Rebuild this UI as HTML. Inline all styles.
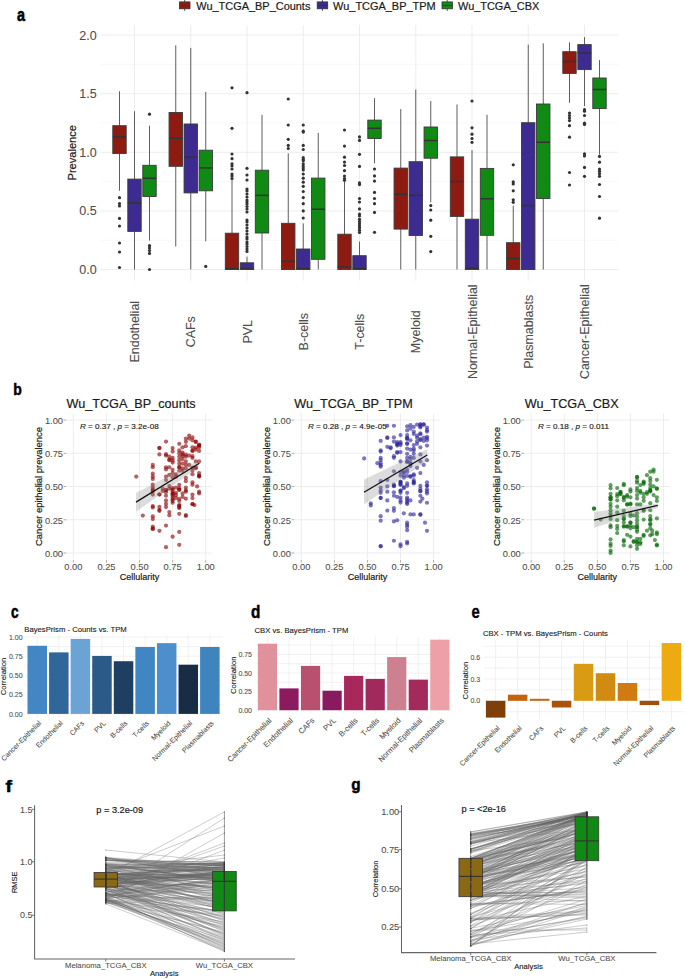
<!DOCTYPE html>
<html><head><meta charset="utf-8"><style>
html,body{margin:0;padding:0;background:#fff;width:685px;height:979px;overflow:hidden}
svg{display:block;font-family:"Liberation Sans",sans-serif}
</style></head><body>
<svg width="685" height="979" viewBox="0 0 685 979">
<rect width="685" height="979" fill="#fff"/>
<line x1="100.30" y1="269.50" x2="618.40" y2="269.50" stroke="#ebebeb" stroke-width="0.9"/>
<line x1="100.30" y1="240.20" x2="618.40" y2="240.20" stroke="#f3f3f3" stroke-width="0.6"/>
<line x1="100.30" y1="210.90" x2="618.40" y2="210.90" stroke="#ebebeb" stroke-width="0.9"/>
<line x1="100.30" y1="181.60" x2="618.40" y2="181.60" stroke="#f3f3f3" stroke-width="0.6"/>
<line x1="100.30" y1="152.30" x2="618.40" y2="152.30" stroke="#ebebeb" stroke-width="0.9"/>
<line x1="100.30" y1="123.00" x2="618.40" y2="123.00" stroke="#f3f3f3" stroke-width="0.6"/>
<line x1="100.30" y1="93.70" x2="618.40" y2="93.70" stroke="#ebebeb" stroke-width="0.9"/>
<line x1="100.30" y1="64.40" x2="618.40" y2="64.40" stroke="#f3f3f3" stroke-width="0.6"/>
<line x1="100.30" y1="35.10" x2="618.40" y2="35.10" stroke="#ebebeb" stroke-width="0.9"/>
<line x1="134.50" y1="25.00" x2="134.50" y2="280.60" stroke="#ebebeb" stroke-width="0.9"/>
<line x1="190.75" y1="25.00" x2="190.75" y2="280.60" stroke="#ebebeb" stroke-width="0.9"/>
<line x1="247.00" y1="25.00" x2="247.00" y2="280.60" stroke="#ebebeb" stroke-width="0.9"/>
<line x1="303.25" y1="25.00" x2="303.25" y2="280.60" stroke="#ebebeb" stroke-width="0.9"/>
<line x1="359.50" y1="25.00" x2="359.50" y2="280.60" stroke="#ebebeb" stroke-width="0.9"/>
<line x1="415.75" y1="25.00" x2="415.75" y2="280.60" stroke="#ebebeb" stroke-width="0.9"/>
<line x1="472.00" y1="25.00" x2="472.00" y2="280.60" stroke="#ebebeb" stroke-width="0.9"/>
<line x1="528.25" y1="25.00" x2="528.25" y2="280.60" stroke="#ebebeb" stroke-width="0.9"/>
<line x1="584.50" y1="25.00" x2="584.50" y2="280.60" stroke="#ebebeb" stroke-width="0.9"/>
<text x="96.60" y="274.00" font-size="12.5" fill="#4d4d4d" stroke="#4d4d4d" stroke-width="0.08" text-anchor="end">0.0</text>
<text x="96.60" y="215.40" font-size="12.5" fill="#4d4d4d" stroke="#4d4d4d" stroke-width="0.08" text-anchor="end">0.5</text>
<text x="96.60" y="156.80" font-size="12.5" fill="#4d4d4d" stroke="#4d4d4d" stroke-width="0.08" text-anchor="end">1.0</text>
<text x="96.60" y="98.20" font-size="12.5" fill="#4d4d4d" stroke="#4d4d4d" stroke-width="0.08" text-anchor="end">1.5</text>
<text x="96.60" y="39.60" font-size="12.5" fill="#4d4d4d" stroke="#4d4d4d" stroke-width="0.08" text-anchor="end">2.0</text>
<text x="75.60" y="152.75" font-size="11.1" fill="#1a1a1a" stroke="#1a1a1a" stroke-width="0.2" text-anchor="middle" transform="rotate(-90 75.6 152.75)">Prevalence</text>
<text x="139.10" y="331.70" font-size="12.45" fill="#4d4d4d" stroke="#4d4d4d" stroke-width="0.08" text-anchor="middle" transform="rotate(-90 139.1 331.7)">Endothelial</text>
<text x="195.35" y="331.70" font-size="12.45" fill="#4d4d4d" stroke="#4d4d4d" stroke-width="0.08" text-anchor="middle" transform="rotate(-90 195.35 331.7)">CAFs</text>
<text x="251.60" y="331.70" font-size="12.45" fill="#4d4d4d" stroke="#4d4d4d" stroke-width="0.08" text-anchor="middle" transform="rotate(-90 251.6 331.7)">PVL</text>
<text x="307.85" y="331.70" font-size="12.45" fill="#4d4d4d" stroke="#4d4d4d" stroke-width="0.08" text-anchor="middle" transform="rotate(-90 307.85 331.7)">B-cells</text>
<text x="364.10" y="331.70" font-size="12.45" fill="#4d4d4d" stroke="#4d4d4d" stroke-width="0.08" text-anchor="middle" transform="rotate(-90 364.1 331.7)">T-cells</text>
<text x="420.35" y="331.70" font-size="12.45" fill="#4d4d4d" stroke="#4d4d4d" stroke-width="0.08" text-anchor="middle" transform="rotate(-90 420.35 331.7)">Myeloid</text>
<text x="476.60" y="331.70" font-size="12.45" fill="#4d4d4d" stroke="#4d4d4d" stroke-width="0.08" text-anchor="middle" transform="rotate(-90 476.6 331.7)">Normal-Epithelial</text>
<text x="532.85" y="331.70" font-size="12.45" fill="#4d4d4d" stroke="#4d4d4d" stroke-width="0.08" text-anchor="middle" transform="rotate(-90 532.85 331.7)">Plasmablasts</text>
<text x="589.10" y="331.70" font-size="12.45" fill="#4d4d4d" stroke="#4d4d4d" stroke-width="0.08" text-anchor="middle" transform="rotate(-90 589.1 331.7)">Cancer-Epithelial</text>
<line x1="184.70" y1="0.00" x2="184.70" y2="10.90" stroke="#555" stroke-width="1"/>
<rect x="179.50" y="1.90" width="10.50" height="6.90" fill="#8e1b12" stroke="#333" stroke-width="0.8"/>
<line x1="179.50" y1="5.40" x2="190.00" y2="5.40" stroke="#333" stroke-width="0.9"/>
<text x="196.30" y="9.60" font-size="10.95" fill="#1a1a1a" stroke="#1a1a1a" stroke-width="0.2" text-anchor="start">Wu_TCGA_BP_Counts</text>
<line x1="322.40" y1="0.00" x2="322.40" y2="10.90" stroke="#555" stroke-width="1"/>
<rect x="317.20" y="1.90" width="10.50" height="6.90" fill="#3d2b92" stroke="#333" stroke-width="0.8"/>
<line x1="317.20" y1="5.40" x2="327.70" y2="5.40" stroke="#333" stroke-width="0.9"/>
<text x="333.10" y="9.60" font-size="10.95" fill="#1a1a1a" stroke="#1a1a1a" stroke-width="0.2" text-anchor="start">Wu_TCGA_BP_TPM</text>
<line x1="447.20" y1="0.00" x2="447.20" y2="10.90" stroke="#555" stroke-width="1"/>
<rect x="442.00" y="1.90" width="10.50" height="6.90" fill="#108a14" stroke="#333" stroke-width="0.8"/>
<line x1="442.00" y1="5.40" x2="452.50" y2="5.40" stroke="#333" stroke-width="0.9"/>
<text x="458.00" y="9.60" font-size="10.95" fill="#1a1a1a" stroke="#1a1a1a" stroke-width="0.2" text-anchor="start">Wu_TCGA_CBX</text>
<text x="0" y="0" font-size="18" font-weight="bold" fill="#000" stroke="#000" stroke-width="0.6" transform="translate(17.0 21.0) scale(0.8 0.97)">a</text>
<line x1="119.50" y1="91.30" x2="119.50" y2="125.70" stroke="#5e5e5e" stroke-width="1.0"/>
<line x1="119.50" y1="153.60" x2="119.50" y2="190.80" stroke="#5e5e5e" stroke-width="1.0"/>
<rect x="112.80" y="125.70" width="13.40" height="27.90" fill="#8e1b12" stroke="#3a3a3a" stroke-width="0.9"/>
<line x1="112.80" y1="136.70" x2="126.20" y2="136.70" stroke="#333" stroke-width="1.5"/>
<circle cx="119.50" cy="197.70" r="1.6" fill="#333"/>
<circle cx="119.50" cy="203.60" r="1.6" fill="#333"/>
<circle cx="119.50" cy="206.00" r="1.6" fill="#333"/>
<circle cx="119.50" cy="218.40" r="1.6" fill="#333"/>
<circle cx="119.50" cy="226.00" r="1.6" fill="#333"/>
<circle cx="119.50" cy="243.00" r="1.6" fill="#333"/>
<circle cx="119.50" cy="252.00" r="1.6" fill="#333"/>
<circle cx="119.50" cy="267.50" r="1.6" fill="#333"/>
<line x1="134.50" y1="111.20" x2="134.50" y2="179.10" stroke="#5e5e5e" stroke-width="1.0"/>
<line x1="134.50" y1="231.40" x2="134.50" y2="269.50" stroke="#5e5e5e" stroke-width="1.0"/>
<rect x="127.80" y="179.10" width="13.40" height="52.30" fill="#3d2b92" stroke="#3a3a3a" stroke-width="0.9"/>
<line x1="127.80" y1="202.80" x2="141.20" y2="202.80" stroke="#333" stroke-width="1.5"/>
<line x1="149.50" y1="125.70" x2="149.50" y2="165.30" stroke="#5e5e5e" stroke-width="1.0"/>
<line x1="149.50" y1="196.50" x2="149.50" y2="240.60" stroke="#5e5e5e" stroke-width="1.0"/>
<rect x="142.80" y="165.30" width="13.40" height="31.20" fill="#108a14" stroke="#3a3a3a" stroke-width="0.9"/>
<line x1="142.80" y1="178.30" x2="156.20" y2="178.30" stroke="#333" stroke-width="1.5"/>
<circle cx="149.50" cy="114.20" r="1.6" fill="#333"/>
<circle cx="149.50" cy="245.70" r="1.6" fill="#333"/>
<circle cx="149.50" cy="248.00" r="1.6" fill="#333"/>
<circle cx="149.50" cy="250.50" r="1.6" fill="#333"/>
<circle cx="149.50" cy="253.40" r="1.6" fill="#333"/>
<circle cx="149.50" cy="269.50" r="1.6" fill="#333"/>
<line x1="175.75" y1="45.30" x2="175.75" y2="112.50" stroke="#5e5e5e" stroke-width="1.0"/>
<line x1="175.75" y1="166.30" x2="175.75" y2="246.50" stroke="#5e5e5e" stroke-width="1.0"/>
<rect x="169.05" y="112.50" width="13.40" height="53.80" fill="#8e1b12" stroke="#3a3a3a" stroke-width="0.9"/>
<line x1="169.05" y1="138.20" x2="182.45" y2="138.20" stroke="#333" stroke-width="1.5"/>
<line x1="190.75" y1="47.90" x2="190.75" y2="124.00" stroke="#5e5e5e" stroke-width="1.0"/>
<line x1="190.75" y1="192.90" x2="190.75" y2="269.50" stroke="#5e5e5e" stroke-width="1.0"/>
<rect x="184.05" y="124.00" width="13.40" height="68.90" fill="#3d2b92" stroke="#3a3a3a" stroke-width="0.9"/>
<line x1="184.05" y1="157.10" x2="197.45" y2="157.10" stroke="#333" stroke-width="1.5"/>
<line x1="205.75" y1="91.80" x2="205.75" y2="150.20" stroke="#5e5e5e" stroke-width="1.0"/>
<line x1="205.75" y1="190.80" x2="205.75" y2="241.40" stroke="#5e5e5e" stroke-width="1.0"/>
<rect x="199.05" y="150.20" width="13.40" height="40.60" fill="#108a14" stroke="#3a3a3a" stroke-width="0.9"/>
<line x1="199.05" y1="167.90" x2="212.45" y2="167.90" stroke="#333" stroke-width="1.5"/>
<circle cx="205.75" cy="266.40" r="1.6" fill="#333"/>
<line x1="232.00" y1="179.30" x2="232.00" y2="233.20" stroke="#5e5e5e" stroke-width="1.0"/>
<line x1="232.00" y1="269.50" x2="232.00" y2="269.50" stroke="#5e5e5e" stroke-width="1.0"/>
<rect x="225.30" y="233.20" width="13.40" height="36.30" fill="#8e1b12" stroke="#3a3a3a" stroke-width="0.9"/>
<line x1="225.30" y1="268.70" x2="238.70" y2="268.70" stroke="#333" stroke-width="1.5"/>
<circle cx="232.00" cy="87.80" r="1.6" fill="#333"/>
<circle cx="232.00" cy="128.30" r="1.6" fill="#333"/>
<circle cx="232.00" cy="154.00" r="1.6" fill="#333"/>
<circle cx="232.00" cy="158.70" r="1.6" fill="#333"/>
<circle cx="232.00" cy="163.80" r="1.6" fill="#333"/>
<circle cx="232.00" cy="165.90" r="1.6" fill="#333"/>
<circle cx="232.00" cy="169.00" r="1.6" fill="#333"/>
<circle cx="232.00" cy="174.00" r="1.6" fill="#333"/>
<circle cx="232.00" cy="176.00" r="1.6" fill="#333"/>
<circle cx="232.00" cy="178.50" r="1.6" fill="#333"/>
<line x1="247.00" y1="256.70" x2="247.00" y2="262.80" stroke="#5e5e5e" stroke-width="1.0"/>
<line x1="247.00" y1="269.50" x2="247.00" y2="269.50" stroke="#5e5e5e" stroke-width="1.0"/>
<rect x="240.30" y="262.80" width="13.40" height="6.70" fill="#3d2b92" stroke="#3a3a3a" stroke-width="0.9"/>
<line x1="240.30" y1="268.60" x2="253.70" y2="268.60" stroke="#333" stroke-width="1.5"/>
<circle cx="247.00" cy="92.70" r="1.6" fill="#333"/>
<circle cx="247.00" cy="168.30" r="1.6" fill="#333"/>
<circle cx="247.00" cy="175.00" r="1.6" fill="#333"/>
<circle cx="247.00" cy="180.00" r="1.6" fill="#333"/>
<circle cx="247.00" cy="189.00" r="1.6" fill="#333"/>
<circle cx="247.00" cy="191.00" r="1.6" fill="#333"/>
<circle cx="247.00" cy="194.00" r="1.6" fill="#333"/>
<circle cx="247.00" cy="197.00" r="1.6" fill="#333"/>
<circle cx="247.00" cy="200.00" r="1.6" fill="#333"/>
<circle cx="247.00" cy="202.00" r="1.6" fill="#333"/>
<circle cx="247.00" cy="204.00" r="1.6" fill="#333"/>
<circle cx="247.00" cy="206.50" r="1.6" fill="#333"/>
<circle cx="247.00" cy="209.00" r="1.6" fill="#333"/>
<circle cx="247.00" cy="212.00" r="1.6" fill="#333"/>
<circle cx="247.00" cy="220.00" r="1.6" fill="#333"/>
<circle cx="247.00" cy="222.00" r="1.6" fill="#333"/>
<circle cx="247.00" cy="225.00" r="1.6" fill="#333"/>
<circle cx="247.00" cy="228.00" r="1.6" fill="#333"/>
<circle cx="247.00" cy="231.00" r="1.6" fill="#333"/>
<circle cx="247.00" cy="234.00" r="1.6" fill="#333"/>
<circle cx="247.00" cy="237.00" r="1.6" fill="#333"/>
<circle cx="247.00" cy="239.00" r="1.6" fill="#333"/>
<circle cx="247.00" cy="242.00" r="1.6" fill="#333"/>
<circle cx="247.00" cy="244.00" r="1.6" fill="#333"/>
<circle cx="247.00" cy="246.50" r="1.6" fill="#333"/>
<circle cx="247.00" cy="249.00" r="1.6" fill="#333"/>
<circle cx="247.00" cy="251.40" r="1.6" fill="#333"/>
<line x1="262.00" y1="114.80" x2="262.00" y2="170.20" stroke="#5e5e5e" stroke-width="1.0"/>
<line x1="262.00" y1="233.00" x2="262.00" y2="269.50" stroke="#5e5e5e" stroke-width="1.0"/>
<rect x="255.30" y="170.20" width="13.40" height="62.80" fill="#108a14" stroke="#3a3a3a" stroke-width="0.9"/>
<line x1="255.30" y1="195.40" x2="268.70" y2="195.40" stroke="#333" stroke-width="1.5"/>
<line x1="288.25" y1="153.30" x2="288.25" y2="223.30" stroke="#5e5e5e" stroke-width="1.0"/>
<line x1="288.25" y1="269.50" x2="288.25" y2="269.50" stroke="#5e5e5e" stroke-width="1.0"/>
<rect x="281.55" y="223.30" width="13.40" height="46.20" fill="#8e1b12" stroke="#3a3a3a" stroke-width="0.9"/>
<line x1="281.55" y1="261.30" x2="294.95" y2="261.30" stroke="#333" stroke-width="1.5"/>
<circle cx="288.25" cy="99.00" r="1.6" fill="#333"/>
<circle cx="288.25" cy="125.00" r="1.6" fill="#333"/>
<circle cx="288.25" cy="139.30" r="1.6" fill="#333"/>
<circle cx="288.25" cy="145.40" r="1.6" fill="#333"/>
<circle cx="288.25" cy="148.50" r="1.6" fill="#333"/>
<line x1="303.25" y1="223.50" x2="303.25" y2="249.00" stroke="#5e5e5e" stroke-width="1.0"/>
<line x1="303.25" y1="269.50" x2="303.25" y2="269.50" stroke="#5e5e5e" stroke-width="1.0"/>
<rect x="296.55" y="249.00" width="13.40" height="20.50" fill="#3d2b92" stroke="#3a3a3a" stroke-width="0.9"/>
<line x1="296.55" y1="268.60" x2="309.95" y2="268.60" stroke="#333" stroke-width="1.5"/>
<circle cx="303.25" cy="125.00" r="1.6" fill="#333"/>
<circle cx="303.25" cy="131.10" r="1.6" fill="#333"/>
<circle cx="303.25" cy="132.10" r="1.6" fill="#333"/>
<circle cx="303.25" cy="145.40" r="1.6" fill="#333"/>
<circle cx="303.25" cy="149.50" r="1.6" fill="#333"/>
<circle cx="303.25" cy="157.70" r="1.6" fill="#333"/>
<circle cx="303.25" cy="159.50" r="1.6" fill="#333"/>
<circle cx="303.25" cy="160.80" r="1.6" fill="#333"/>
<circle cx="303.25" cy="163.80" r="1.6" fill="#333"/>
<circle cx="303.25" cy="166.00" r="1.6" fill="#333"/>
<circle cx="303.25" cy="168.00" r="1.6" fill="#333"/>
<circle cx="303.25" cy="170.00" r="1.6" fill="#333"/>
<circle cx="303.25" cy="174.00" r="1.6" fill="#333"/>
<circle cx="303.25" cy="178.20" r="1.6" fill="#333"/>
<circle cx="303.25" cy="182.20" r="1.6" fill="#333"/>
<circle cx="303.25" cy="186.30" r="1.6" fill="#333"/>
<circle cx="303.25" cy="191.50" r="1.6" fill="#333"/>
<circle cx="303.25" cy="197.60" r="1.6" fill="#333"/>
<circle cx="303.25" cy="203.70" r="1.6" fill="#333"/>
<circle cx="303.25" cy="210.90" r="1.6" fill="#333"/>
<circle cx="303.25" cy="218.00" r="1.6" fill="#333"/>
<line x1="318.25" y1="132.90" x2="318.25" y2="178.10" stroke="#5e5e5e" stroke-width="1.0"/>
<line x1="318.25" y1="259.30" x2="318.25" y2="269.50" stroke="#5e5e5e" stroke-width="1.0"/>
<rect x="311.55" y="178.10" width="13.40" height="81.20" fill="#108a14" stroke="#3a3a3a" stroke-width="0.9"/>
<line x1="311.55" y1="209.20" x2="324.95" y2="209.20" stroke="#333" stroke-width="1.5"/>
<line x1="344.50" y1="181.90" x2="344.50" y2="234.20" stroke="#5e5e5e" stroke-width="1.0"/>
<line x1="344.50" y1="269.50" x2="344.50" y2="269.50" stroke="#5e5e5e" stroke-width="1.0"/>
<rect x="337.80" y="234.20" width="13.40" height="35.30" fill="#8e1b12" stroke="#3a3a3a" stroke-width="0.9"/>
<line x1="337.80" y1="266.90" x2="351.20" y2="266.90" stroke="#333" stroke-width="1.5"/>
<circle cx="344.50" cy="130.00" r="1.6" fill="#333"/>
<circle cx="344.50" cy="146.10" r="1.6" fill="#333"/>
<circle cx="344.50" cy="157.20" r="1.6" fill="#333"/>
<circle cx="344.50" cy="162.10" r="1.6" fill="#333"/>
<circle cx="344.50" cy="165.50" r="1.6" fill="#333"/>
<circle cx="344.50" cy="170.70" r="1.6" fill="#333"/>
<circle cx="344.50" cy="176.00" r="1.6" fill="#333"/>
<circle cx="344.50" cy="178.50" r="1.6" fill="#333"/>
<circle cx="344.50" cy="180.30" r="1.6" fill="#333"/>
<line x1="359.50" y1="241.60" x2="359.50" y2="255.70" stroke="#5e5e5e" stroke-width="1.0"/>
<line x1="359.50" y1="269.50" x2="359.50" y2="269.50" stroke="#5e5e5e" stroke-width="1.0"/>
<rect x="352.80" y="255.70" width="13.40" height="13.80" fill="#3d2b92" stroke="#3a3a3a" stroke-width="0.9"/>
<line x1="352.80" y1="268.60" x2="366.20" y2="268.60" stroke="#333" stroke-width="1.5"/>
<circle cx="359.50" cy="136.90" r="1.6" fill="#333"/>
<circle cx="359.50" cy="140.40" r="1.6" fill="#333"/>
<circle cx="359.50" cy="154.30" r="1.6" fill="#333"/>
<circle cx="359.50" cy="166.40" r="1.6" fill="#333"/>
<circle cx="359.50" cy="182.90" r="1.6" fill="#333"/>
<circle cx="359.50" cy="184.60" r="1.6" fill="#333"/>
<circle cx="359.50" cy="198.50" r="1.6" fill="#333"/>
<circle cx="359.50" cy="202.00" r="1.6" fill="#333"/>
<circle cx="359.50" cy="208.90" r="1.6" fill="#333"/>
<circle cx="359.50" cy="214.10" r="1.6" fill="#333"/>
<circle cx="359.50" cy="215.90" r="1.6" fill="#333"/>
<circle cx="359.50" cy="219.30" r="1.6" fill="#333"/>
<circle cx="359.50" cy="221.50" r="1.6" fill="#333"/>
<circle cx="359.50" cy="223.70" r="1.6" fill="#333"/>
<circle cx="359.50" cy="225.90" r="1.6" fill="#333"/>
<circle cx="359.50" cy="228.10" r="1.6" fill="#333"/>
<circle cx="359.50" cy="230.30" r="1.6" fill="#333"/>
<circle cx="359.50" cy="232.50" r="1.6" fill="#333"/>
<line x1="374.50" y1="98.20" x2="374.50" y2="120.10" stroke="#5e5e5e" stroke-width="1.0"/>
<line x1="374.50" y1="138.50" x2="374.50" y2="163.30" stroke="#5e5e5e" stroke-width="1.0"/>
<rect x="367.80" y="120.10" width="13.40" height="18.40" fill="#108a14" stroke="#3a3a3a" stroke-width="0.9"/>
<line x1="367.80" y1="128.30" x2="381.20" y2="128.30" stroke="#333" stroke-width="1.5"/>
<circle cx="374.50" cy="169.00" r="1.6" fill="#333"/>
<circle cx="374.50" cy="175.90" r="1.6" fill="#333"/>
<circle cx="374.50" cy="181.10" r="1.6" fill="#333"/>
<circle cx="374.50" cy="192.40" r="1.6" fill="#333"/>
<circle cx="374.50" cy="198.50" r="1.6" fill="#333"/>
<circle cx="374.50" cy="203.70" r="1.6" fill="#333"/>
<circle cx="374.50" cy="212.40" r="1.6" fill="#333"/>
<circle cx="374.50" cy="232.30" r="1.6" fill="#333"/>
<line x1="400.75" y1="109.10" x2="400.75" y2="168.10" stroke="#5e5e5e" stroke-width="1.0"/>
<line x1="400.75" y1="229.10" x2="400.75" y2="269.50" stroke="#5e5e5e" stroke-width="1.0"/>
<rect x="394.05" y="168.10" width="13.40" height="61.00" fill="#8e1b12" stroke="#3a3a3a" stroke-width="0.9"/>
<line x1="394.05" y1="194.20" x2="407.45" y2="194.20" stroke="#333" stroke-width="1.5"/>
<line x1="415.75" y1="89.50" x2="415.75" y2="161.70" stroke="#5e5e5e" stroke-width="1.0"/>
<line x1="415.75" y1="235.50" x2="415.75" y2="269.50" stroke="#5e5e5e" stroke-width="1.0"/>
<rect x="409.05" y="161.70" width="13.40" height="73.80" fill="#3d2b92" stroke="#3a3a3a" stroke-width="0.9"/>
<line x1="409.05" y1="195.40" x2="422.45" y2="195.40" stroke="#333" stroke-width="1.5"/>
<line x1="430.75" y1="101.00" x2="430.75" y2="127.00" stroke="#5e5e5e" stroke-width="1.0"/>
<line x1="430.75" y1="158.20" x2="430.75" y2="202.30" stroke="#5e5e5e" stroke-width="1.0"/>
<rect x="424.05" y="127.00" width="13.40" height="31.20" fill="#108a14" stroke="#3a3a3a" stroke-width="0.9"/>
<line x1="424.05" y1="140.50" x2="437.45" y2="140.50" stroke="#333" stroke-width="1.5"/>
<circle cx="430.75" cy="205.60" r="1.6" fill="#333"/>
<circle cx="430.75" cy="210.00" r="1.6" fill="#333"/>
<circle cx="430.75" cy="220.20" r="1.6" fill="#333"/>
<circle cx="430.75" cy="236.30" r="1.6" fill="#333"/>
<circle cx="430.75" cy="251.60" r="1.6" fill="#333"/>
<line x1="457.00" y1="104.50" x2="457.00" y2="156.90" stroke="#5e5e5e" stroke-width="1.0"/>
<line x1="457.00" y1="216.40" x2="457.00" y2="269.50" stroke="#5e5e5e" stroke-width="1.0"/>
<rect x="450.30" y="156.90" width="13.40" height="59.50" fill="#8e1b12" stroke="#3a3a3a" stroke-width="0.9"/>
<line x1="450.30" y1="181.40" x2="463.70" y2="181.40" stroke="#333" stroke-width="1.5"/>
<line x1="472.00" y1="150.00" x2="472.00" y2="219.20" stroke="#5e5e5e" stroke-width="1.0"/>
<line x1="472.00" y1="269.50" x2="472.00" y2="269.50" stroke="#5e5e5e" stroke-width="1.0"/>
<rect x="465.30" y="219.20" width="13.40" height="50.30" fill="#3d2b92" stroke="#3a3a3a" stroke-width="0.9"/>
<line x1="465.30" y1="268.20" x2="478.70" y2="268.20" stroke="#333" stroke-width="1.5"/>
<circle cx="472.00" cy="101.00" r="1.6" fill="#333"/>
<circle cx="472.00" cy="127.80" r="1.6" fill="#333"/>
<circle cx="472.00" cy="134.20" r="1.6" fill="#333"/>
<circle cx="472.00" cy="138.50" r="1.6" fill="#333"/>
<circle cx="472.00" cy="142.30" r="1.6" fill="#333"/>
<line x1="487.00" y1="114.80" x2="487.00" y2="168.40" stroke="#5e5e5e" stroke-width="1.0"/>
<line x1="487.00" y1="235.30" x2="487.00" y2="269.50" stroke="#5e5e5e" stroke-width="1.0"/>
<rect x="480.30" y="168.40" width="13.40" height="66.90" fill="#108a14" stroke="#3a3a3a" stroke-width="0.9"/>
<line x1="480.30" y1="198.80" x2="493.70" y2="198.80" stroke="#333" stroke-width="1.5"/>
<line x1="513.25" y1="205.60" x2="513.25" y2="242.70" stroke="#5e5e5e" stroke-width="1.0"/>
<line x1="513.25" y1="269.50" x2="513.25" y2="269.50" stroke="#5e5e5e" stroke-width="1.0"/>
<rect x="506.55" y="242.70" width="13.40" height="26.80" fill="#8e1b12" stroke="#3a3a3a" stroke-width="0.9"/>
<line x1="506.55" y1="258.50" x2="519.95" y2="258.50" stroke="#333" stroke-width="1.5"/>
<circle cx="513.25" cy="164.80" r="1.6" fill="#333"/>
<circle cx="513.25" cy="181.90" r="1.6" fill="#333"/>
<circle cx="513.25" cy="184.00" r="1.6" fill="#333"/>
<circle cx="513.25" cy="190.80" r="1.6" fill="#333"/>
<circle cx="513.25" cy="199.80" r="1.6" fill="#333"/>
<circle cx="513.25" cy="202.30" r="1.6" fill="#333"/>
<line x1="528.25" y1="44.60" x2="528.25" y2="122.70" stroke="#5e5e5e" stroke-width="1.0"/>
<line x1="528.25" y1="269.50" x2="528.25" y2="269.50" stroke="#5e5e5e" stroke-width="1.0"/>
<rect x="521.55" y="122.70" width="13.40" height="146.80" fill="#3d2b92" stroke="#3a3a3a" stroke-width="0.9"/>
<line x1="521.55" y1="205.60" x2="534.95" y2="205.60" stroke="#333" stroke-width="1.5"/>
<line x1="543.25" y1="43.30" x2="543.25" y2="104.00" stroke="#5e5e5e" stroke-width="1.0"/>
<line x1="543.25" y1="198.50" x2="543.25" y2="269.50" stroke="#5e5e5e" stroke-width="1.0"/>
<rect x="536.55" y="104.00" width="13.40" height="94.50" fill="#108a14" stroke="#3a3a3a" stroke-width="0.9"/>
<line x1="536.55" y1="142.30" x2="549.95" y2="142.30" stroke="#333" stroke-width="1.5"/>
<line x1="569.50" y1="42.30" x2="569.50" y2="51.70" stroke="#5e5e5e" stroke-width="1.0"/>
<line x1="569.50" y1="73.40" x2="569.50" y2="102.80" stroke="#5e5e5e" stroke-width="1.0"/>
<rect x="562.80" y="51.70" width="13.40" height="21.70" fill="#8e1b12" stroke="#3a3a3a" stroke-width="0.9"/>
<line x1="562.80" y1="61.40" x2="576.20" y2="61.40" stroke="#333" stroke-width="1.5"/>
<circle cx="569.50" cy="113.00" r="1.6" fill="#333"/>
<circle cx="569.50" cy="115.50" r="1.6" fill="#333"/>
<circle cx="569.50" cy="118.00" r="1.6" fill="#333"/>
<circle cx="569.50" cy="120.60" r="1.6" fill="#333"/>
<circle cx="569.50" cy="125.70" r="1.6" fill="#333"/>
<circle cx="569.50" cy="137.20" r="1.6" fill="#333"/>
<circle cx="569.50" cy="172.50" r="1.6" fill="#333"/>
<circle cx="569.50" cy="185.00" r="1.6" fill="#333"/>
<line x1="584.50" y1="37.10" x2="584.50" y2="44.60" stroke="#5e5e5e" stroke-width="1.0"/>
<line x1="584.50" y1="69.60" x2="584.50" y2="106.00" stroke="#5e5e5e" stroke-width="1.0"/>
<rect x="577.80" y="44.60" width="13.40" height="25.00" fill="#3d2b92" stroke="#3a3a3a" stroke-width="0.9"/>
<line x1="577.80" y1="53.00" x2="591.20" y2="53.00" stroke="#333" stroke-width="1.5"/>
<circle cx="584.50" cy="109.70" r="1.6" fill="#333"/>
<circle cx="584.50" cy="111.20" r="1.6" fill="#333"/>
<circle cx="584.50" cy="115.50" r="1.6" fill="#333"/>
<circle cx="584.50" cy="123.20" r="1.6" fill="#333"/>
<circle cx="584.50" cy="124.50" r="1.6" fill="#333"/>
<circle cx="584.50" cy="153.80" r="1.6" fill="#333"/>
<circle cx="584.50" cy="155.90" r="1.6" fill="#333"/>
<circle cx="584.50" cy="167.40" r="1.6" fill="#333"/>
<circle cx="584.50" cy="176.30" r="1.6" fill="#333"/>
<line x1="599.50" y1="60.10" x2="599.50" y2="78.00" stroke="#5e5e5e" stroke-width="1.0"/>
<line x1="599.50" y1="108.60" x2="599.50" y2="154.60" stroke="#5e5e5e" stroke-width="1.0"/>
<rect x="592.80" y="78.00" width="13.40" height="30.60" fill="#108a14" stroke="#3a3a3a" stroke-width="0.9"/>
<line x1="592.80" y1="89.50" x2="606.20" y2="89.50" stroke="#333" stroke-width="1.5"/>
<circle cx="599.50" cy="156.40" r="1.6" fill="#333"/>
<circle cx="599.50" cy="162.20" r="1.6" fill="#333"/>
<circle cx="599.50" cy="169.10" r="1.6" fill="#333"/>
<circle cx="599.50" cy="171.20" r="1.6" fill="#333"/>
<circle cx="599.50" cy="173.70" r="1.6" fill="#333"/>
<circle cx="599.50" cy="176.30" r="1.6" fill="#333"/>
<circle cx="599.50" cy="184.50" r="1.6" fill="#333"/>
<circle cx="599.50" cy="196.50" r="1.6" fill="#333"/>
<circle cx="599.50" cy="218.20" r="1.6" fill="#333"/>
<text x="0" y="0" font-size="16.5" font-weight="bold" fill="#000" stroke="#000" stroke-width="0.5" transform="translate(13.3 394.6) scale(0.85 0.98)">b</text>
<line x1="66.79" y1="553.00" x2="212.32" y2="553.00" stroke="#ebebeb" stroke-width="0.9"/>
<line x1="73.40" y1="413.45" x2="73.40" y2="559.64" stroke="#ebebeb" stroke-width="0.9"/>
<line x1="66.79" y1="519.77" x2="212.32" y2="519.77" stroke="#ebebeb" stroke-width="0.9"/>
<line x1="106.48" y1="413.45" x2="106.48" y2="559.64" stroke="#ebebeb" stroke-width="0.9"/>
<line x1="66.79" y1="486.55" x2="212.32" y2="486.55" stroke="#ebebeb" stroke-width="0.9"/>
<line x1="139.55" y1="413.45" x2="139.55" y2="559.64" stroke="#ebebeb" stroke-width="0.9"/>
<line x1="66.79" y1="453.32" x2="212.32" y2="453.32" stroke="#ebebeb" stroke-width="0.9"/>
<line x1="172.62" y1="413.45" x2="172.62" y2="559.64" stroke="#ebebeb" stroke-width="0.9"/>
<line x1="66.79" y1="420.10" x2="212.32" y2="420.10" stroke="#ebebeb" stroke-width="0.9"/>
<line x1="205.70" y1="413.45" x2="205.70" y2="559.64" stroke="#ebebeb" stroke-width="0.9"/>
<text x="62.99" y="556.90" font-size="9.3" fill="#4d4d4d" stroke="#4d4d4d" stroke-width="0.08" text-anchor="end">0.00</text>
<line x1="63.59" y1="553.00" x2="66.39" y2="553.00" stroke="#9a9a9a" stroke-width="0.8"/>
<text x="73.40" y="569.64" font-size="9.3" fill="#4d4d4d" stroke="#4d4d4d" stroke-width="0.08" text-anchor="middle">0.00</text>
<line x1="73.40" y1="560.04" x2="73.40" y2="562.64" stroke="#9a9a9a" stroke-width="0.8"/>
<text x="62.99" y="523.67" font-size="9.3" fill="#4d4d4d" stroke="#4d4d4d" stroke-width="0.08" text-anchor="end">0.25</text>
<line x1="63.59" y1="519.77" x2="66.39" y2="519.77" stroke="#9a9a9a" stroke-width="0.8"/>
<text x="106.48" y="569.64" font-size="9.3" fill="#4d4d4d" stroke="#4d4d4d" stroke-width="0.08" text-anchor="middle">0.25</text>
<line x1="106.48" y1="560.04" x2="106.48" y2="562.64" stroke="#9a9a9a" stroke-width="0.8"/>
<text x="62.99" y="490.45" font-size="9.3" fill="#4d4d4d" stroke="#4d4d4d" stroke-width="0.08" text-anchor="end">0.50</text>
<line x1="63.59" y1="486.55" x2="66.39" y2="486.55" stroke="#9a9a9a" stroke-width="0.8"/>
<text x="139.55" y="569.64" font-size="9.3" fill="#4d4d4d" stroke="#4d4d4d" stroke-width="0.08" text-anchor="middle">0.50</text>
<line x1="139.55" y1="560.04" x2="139.55" y2="562.64" stroke="#9a9a9a" stroke-width="0.8"/>
<text x="62.99" y="457.22" font-size="9.3" fill="#4d4d4d" stroke="#4d4d4d" stroke-width="0.08" text-anchor="end">0.75</text>
<line x1="63.59" y1="453.32" x2="66.39" y2="453.32" stroke="#9a9a9a" stroke-width="0.8"/>
<text x="172.62" y="569.64" font-size="9.3" fill="#4d4d4d" stroke="#4d4d4d" stroke-width="0.08" text-anchor="middle">0.75</text>
<line x1="172.62" y1="560.04" x2="172.62" y2="562.64" stroke="#9a9a9a" stroke-width="0.8"/>
<text x="62.99" y="424.00" font-size="9.3" fill="#4d4d4d" stroke="#4d4d4d" stroke-width="0.08" text-anchor="end">1.00</text>
<line x1="63.59" y1="420.10" x2="66.39" y2="420.10" stroke="#9a9a9a" stroke-width="0.8"/>
<text x="205.70" y="569.64" font-size="9.3" fill="#4d4d4d" stroke="#4d4d4d" stroke-width="0.08" text-anchor="middle">1.00</text>
<line x1="205.70" y1="560.04" x2="205.70" y2="562.64" stroke="#9a9a9a" stroke-width="0.8"/>
<text x="139.55" y="579.50" font-size="9.0" fill="#1a1a1a" stroke="#1a1a1a" stroke-width="0.2" text-anchor="middle">Cellularity</text>
<text x="42.29" y="486.55" font-size="9.45" fill="#1a1a1a" stroke="#1a1a1a" stroke-width="0.2" text-anchor="middle" transform="rotate(-90 42.28500000000001 486.55)">Cancer epithelial prevalence</text>
<text x="131.00" y="408.00" font-size="12.65" fill="#1a1a1a" stroke="#1a1a1a" stroke-width="0.2" text-anchor="middle">Wu_TCGA_BP_counts</text>
<g fill="#8b0000" fill-opacity="0.62"><circle cx="136.24" cy="476.57" r="2.1"/><circle cx="152.78" cy="464.89" r="2.1"/><circle cx="152.78" cy="467.23" r="2.1"/><circle cx="152.78" cy="473.65" r="2.1"/><circle cx="152.78" cy="476.57" r="2.1"/><circle cx="152.78" cy="478.91" r="2.1"/><circle cx="159.40" cy="447.96" r="2.1"/><circle cx="159.40" cy="454.38" r="2.1"/><circle cx="166.01" cy="441.53" r="2.1"/><circle cx="166.01" cy="455.55" r="2.1"/><circle cx="166.01" cy="467.23" r="2.1"/><circle cx="166.01" cy="476.57" r="2.1"/><circle cx="169.32" cy="456.72" r="2.1"/><circle cx="169.32" cy="459.64" r="2.1"/><circle cx="169.32" cy="467.23" r="2.1"/><circle cx="169.32" cy="474.82" r="2.1"/><circle cx="172.62" cy="451.46" r="2.1"/><circle cx="172.62" cy="457.88" r="2.1"/><circle cx="172.62" cy="462.55" r="2.1"/><circle cx="172.62" cy="473.07" r="2.1"/><circle cx="172.62" cy="477.15" r="2.1"/><circle cx="175.93" cy="474.23" r="2.1"/><circle cx="179.24" cy="443.87" r="2.1"/><circle cx="179.24" cy="450.29" r="2.1"/><circle cx="179.24" cy="453.21" r="2.1"/><circle cx="179.24" cy="456.72" r="2.1"/><circle cx="179.24" cy="460.22" r="2.1"/><circle cx="179.24" cy="463.72" r="2.1"/><circle cx="179.24" cy="467.23" r="2.1"/><circle cx="179.24" cy="470.73" r="2.1"/><circle cx="182.55" cy="447.37" r="2.1"/><circle cx="182.55" cy="454.38" r="2.1"/><circle cx="182.55" cy="459.05" r="2.1"/><circle cx="182.55" cy="463.72" r="2.1"/><circle cx="182.55" cy="468.39" r="2.1"/><circle cx="185.86" cy="438.61" r="2.1"/><circle cx="185.86" cy="446.20" r="2.1"/><circle cx="185.86" cy="456.72" r="2.1"/><circle cx="185.86" cy="461.39" r="2.1"/><circle cx="185.86" cy="464.89" r="2.1"/><circle cx="185.86" cy="468.39" r="2.1"/><circle cx="189.16" cy="438.61" r="2.1"/><circle cx="189.16" cy="455.55" r="2.1"/><circle cx="189.16" cy="464.89" r="2.1"/><circle cx="192.47" cy="440.36" r="2.1"/><circle cx="192.47" cy="447.37" r="2.1"/><circle cx="192.47" cy="450.88" r="2.1"/><circle cx="192.47" cy="457.88" r="2.1"/><circle cx="192.47" cy="470.73" r="2.1"/><circle cx="192.47" cy="474.23" r="2.1"/><circle cx="195.78" cy="441.53" r="2.1"/><circle cx="195.78" cy="449.71" r="2.1"/><circle cx="195.78" cy="461.39" r="2.1"/><circle cx="195.78" cy="467.23" r="2.1"/><circle cx="199.09" cy="445.04" r="2.1"/><circle cx="199.09" cy="447.37" r="2.1"/><circle cx="199.09" cy="450.88" r="2.1"/><circle cx="199.09" cy="461.39" r="2.1"/><circle cx="199.09" cy="473.07" r="2.1"/><circle cx="199.09" cy="476.57" r="2.1"/><circle cx="142.86" cy="515.62" r="2.1"/><circle cx="152.78" cy="484.67" r="2.1"/><circle cx="152.78" cy="487.59" r="2.1"/><circle cx="152.78" cy="491.09" r="2.1"/><circle cx="152.78" cy="494.60" r="2.1"/><circle cx="152.78" cy="507.45" r="2.1"/><circle cx="152.78" cy="519.12" r="2.1"/><circle cx="152.78" cy="526.72" r="2.1"/><circle cx="152.78" cy="528.47" r="2.1"/><circle cx="159.40" cy="494.60" r="2.1"/><circle cx="159.40" cy="506.86" r="2.1"/><circle cx="159.40" cy="509.78" r="2.1"/><circle cx="159.40" cy="510.95" r="2.1"/><circle cx="159.40" cy="530.80" r="2.1"/><circle cx="162.70" cy="491.09" r="2.1"/><circle cx="166.01" cy="480.00" r="2.1"/><circle cx="166.01" cy="489.93" r="2.1"/><circle cx="166.01" cy="492.26" r="2.1"/><circle cx="166.01" cy="495.77" r="2.1"/><circle cx="166.01" cy="500.44" r="2.1"/><circle cx="166.01" cy="503.94" r="2.1"/><circle cx="166.01" cy="525.55" r="2.1"/><circle cx="166.01" cy="547.15" r="2.1"/><circle cx="169.32" cy="488.76" r="2.1"/><circle cx="169.32" cy="512.12" r="2.1"/><circle cx="172.62" cy="488.18" r="2.1"/><circle cx="172.62" cy="491.68" r="2.1"/><circle cx="172.62" cy="493.43" r="2.1"/><circle cx="172.62" cy="497.52" r="2.1"/><circle cx="172.62" cy="499.27" r="2.1"/><circle cx="172.62" cy="502.77" r="2.1"/><circle cx="172.62" cy="536.64" r="2.1"/><circle cx="175.93" cy="487.59" r="2.1"/><circle cx="175.93" cy="492.85" r="2.1"/><circle cx="175.93" cy="495.18" r="2.1"/><circle cx="179.24" cy="488.18" r="2.1"/><circle cx="179.24" cy="489.93" r="2.1"/><circle cx="179.24" cy="501.02" r="2.1"/><circle cx="179.24" cy="505.11" r="2.1"/><circle cx="179.24" cy="508.03" r="2.1"/><circle cx="179.24" cy="513.87" r="2.1"/><circle cx="179.24" cy="531.97" r="2.1"/><circle cx="179.24" cy="544.82" r="2.1"/><circle cx="182.55" cy="493.43" r="2.1"/><circle cx="182.55" cy="496.93" r="2.1"/><circle cx="185.86" cy="481.17" r="2.1"/><circle cx="185.86" cy="487.59" r="2.1"/><circle cx="185.86" cy="491.68" r="2.1"/><circle cx="185.86" cy="498.69" r="2.1"/><circle cx="185.86" cy="515.04" r="2.1"/><circle cx="192.47" cy="482.34" r="2.1"/><circle cx="192.47" cy="484.67" r="2.1"/><circle cx="192.47" cy="494.60" r="2.1"/><circle cx="192.47" cy="503.94" r="2.1"/><circle cx="194.45" cy="505.11" r="2.1"/><circle cx="197.10" cy="486.42" r="2.1"/><circle cx="199.09" cy="491.68" r="2.1"/><circle cx="199.09" cy="493.43" r="2.1"/><circle cx="159.40" cy="448.04" r="2.1"/><circle cx="166.01" cy="454.17" r="2.1"/><circle cx="166.01" cy="469.39" r="2.1"/><circle cx="169.32" cy="460.09" r="2.1"/><circle cx="172.62" cy="448.06" r="2.1"/><circle cx="172.62" cy="460.39" r="2.1"/><circle cx="172.62" cy="469.78" r="2.1"/><circle cx="175.93" cy="476.63" r="2.1"/><circle cx="179.24" cy="467.21" r="2.1"/><circle cx="182.55" cy="452.49" r="2.1"/><circle cx="182.55" cy="456.04" r="2.1"/><circle cx="182.55" cy="470.82" r="2.1"/><circle cx="185.86" cy="441.82" r="2.1"/><circle cx="185.86" cy="454.68" r="2.1"/><circle cx="189.16" cy="435.62" r="2.1"/><circle cx="192.47" cy="437.47" r="2.1"/><circle cx="192.47" cy="450.62" r="2.1"/><circle cx="192.47" cy="456.11" r="2.1"/><circle cx="192.47" cy="467.65" r="2.1"/><circle cx="195.78" cy="441.95" r="2.1"/><circle cx="195.78" cy="447.54" r="2.1"/><circle cx="195.78" cy="468.23" r="2.1"/><circle cx="199.09" cy="444.48" r="2.1"/><circle cx="199.09" cy="445.76" r="2.1"/><circle cx="199.09" cy="475.76" r="2.1"/><circle cx="199.09" cy="475.83" r="2.1"/><circle cx="152.78" cy="491.02" r="2.1"/><circle cx="152.78" cy="489.40" r="2.1"/><circle cx="152.78" cy="506.02" r="2.1"/><circle cx="152.78" cy="516.25" r="2.1"/><circle cx="152.78" cy="529.18" r="2.1"/><circle cx="159.40" cy="494.27" r="2.1"/><circle cx="162.70" cy="488.67" r="2.1"/><circle cx="166.01" cy="490.09" r="2.1"/><circle cx="166.01" cy="507.09" r="2.1"/><circle cx="169.32" cy="485.99" r="2.1"/><circle cx="169.32" cy="515.36" r="2.1"/><circle cx="172.62" cy="489.61" r="2.1"/><circle cx="172.62" cy="493.94" r="2.1"/><circle cx="172.62" cy="495.25" r="2.1"/><circle cx="172.62" cy="500.87" r="2.1"/><circle cx="175.93" cy="498.10" r="2.1"/><circle cx="179.24" cy="484.79" r="2.1"/><circle cx="179.24" cy="489.55" r="2.1"/><circle cx="179.24" cy="498.76" r="2.1"/><circle cx="179.24" cy="505.61" r="2.1"/><circle cx="179.24" cy="507.06" r="2.1"/><circle cx="185.86" cy="477.91" r="2.1"/><circle cx="185.86" cy="490.46" r="2.1"/><circle cx="185.86" cy="515.99" r="2.1"/><circle cx="192.47" cy="498.09" r="2.1"/><circle cx="192.47" cy="504.26" r="2.1"/></g>
<polygon points="136.0,493.1 199.3,459.8 199.3,466.8 136.0,511.8" fill="#8c8c8c" fill-opacity="0.3"/>
<line x1="136.00" y1="502.10" x2="199.30" y2="463.30" stroke="#111" stroke-width="1.3"/>
<text x="79.9" y="429.0" font-size="8.1" fill="#1a1a1a" stroke="#1a1a1a" stroke-width="0.15"><tspan font-style="italic">R</tspan> = 0.37 , <tspan font-style="italic">p</tspan> = 3.2e-08</text>
<line x1="294.69" y1="553.00" x2="440.22" y2="553.00" stroke="#ebebeb" stroke-width="0.9"/>
<line x1="301.30" y1="413.45" x2="301.30" y2="559.64" stroke="#ebebeb" stroke-width="0.9"/>
<line x1="294.69" y1="519.77" x2="440.22" y2="519.77" stroke="#ebebeb" stroke-width="0.9"/>
<line x1="334.38" y1="413.45" x2="334.38" y2="559.64" stroke="#ebebeb" stroke-width="0.9"/>
<line x1="294.69" y1="486.55" x2="440.22" y2="486.55" stroke="#ebebeb" stroke-width="0.9"/>
<line x1="367.45" y1="413.45" x2="367.45" y2="559.64" stroke="#ebebeb" stroke-width="0.9"/>
<line x1="294.69" y1="453.32" x2="440.22" y2="453.32" stroke="#ebebeb" stroke-width="0.9"/>
<line x1="400.53" y1="413.45" x2="400.53" y2="559.64" stroke="#ebebeb" stroke-width="0.9"/>
<line x1="294.69" y1="420.10" x2="440.22" y2="420.10" stroke="#ebebeb" stroke-width="0.9"/>
<line x1="433.60" y1="413.45" x2="433.60" y2="559.64" stroke="#ebebeb" stroke-width="0.9"/>
<text x="290.88" y="556.90" font-size="9.3" fill="#4d4d4d" stroke="#4d4d4d" stroke-width="0.08" text-anchor="end">0.00</text>
<line x1="291.49" y1="553.00" x2="294.29" y2="553.00" stroke="#9a9a9a" stroke-width="0.8"/>
<text x="301.30" y="569.64" font-size="9.3" fill="#4d4d4d" stroke="#4d4d4d" stroke-width="0.08" text-anchor="middle">0.00</text>
<line x1="301.30" y1="560.04" x2="301.30" y2="562.64" stroke="#9a9a9a" stroke-width="0.8"/>
<text x="290.88" y="523.67" font-size="9.3" fill="#4d4d4d" stroke="#4d4d4d" stroke-width="0.08" text-anchor="end">0.25</text>
<line x1="291.49" y1="519.77" x2="294.29" y2="519.77" stroke="#9a9a9a" stroke-width="0.8"/>
<text x="334.38" y="569.64" font-size="9.3" fill="#4d4d4d" stroke="#4d4d4d" stroke-width="0.08" text-anchor="middle">0.25</text>
<line x1="334.38" y1="560.04" x2="334.38" y2="562.64" stroke="#9a9a9a" stroke-width="0.8"/>
<text x="290.88" y="490.45" font-size="9.3" fill="#4d4d4d" stroke="#4d4d4d" stroke-width="0.08" text-anchor="end">0.50</text>
<line x1="291.49" y1="486.55" x2="294.29" y2="486.55" stroke="#9a9a9a" stroke-width="0.8"/>
<text x="367.45" y="569.64" font-size="9.3" fill="#4d4d4d" stroke="#4d4d4d" stroke-width="0.08" text-anchor="middle">0.50</text>
<line x1="367.45" y1="560.04" x2="367.45" y2="562.64" stroke="#9a9a9a" stroke-width="0.8"/>
<text x="290.88" y="457.22" font-size="9.3" fill="#4d4d4d" stroke="#4d4d4d" stroke-width="0.08" text-anchor="end">0.75</text>
<line x1="291.49" y1="453.32" x2="294.29" y2="453.32" stroke="#9a9a9a" stroke-width="0.8"/>
<text x="400.53" y="569.64" font-size="9.3" fill="#4d4d4d" stroke="#4d4d4d" stroke-width="0.08" text-anchor="middle">0.75</text>
<line x1="400.53" y1="560.04" x2="400.53" y2="562.64" stroke="#9a9a9a" stroke-width="0.8"/>
<text x="290.88" y="424.00" font-size="9.3" fill="#4d4d4d" stroke="#4d4d4d" stroke-width="0.08" text-anchor="end">1.00</text>
<line x1="291.49" y1="420.10" x2="294.29" y2="420.10" stroke="#9a9a9a" stroke-width="0.8"/>
<text x="433.60" y="569.64" font-size="9.3" fill="#4d4d4d" stroke="#4d4d4d" stroke-width="0.08" text-anchor="middle">1.00</text>
<line x1="433.60" y1="560.04" x2="433.60" y2="562.64" stroke="#9a9a9a" stroke-width="0.8"/>
<text x="367.45" y="579.50" font-size="9.0" fill="#1a1a1a" stroke="#1a1a1a" stroke-width="0.2" text-anchor="middle">Cellularity</text>
<text x="270.19" y="486.55" font-size="9.45" fill="#1a1a1a" stroke="#1a1a1a" stroke-width="0.2" text-anchor="middle" transform="rotate(-90 270.185 486.55)">Cancer epithelial prevalence</text>
<text x="353.50" y="408.00" font-size="12.65" fill="#1a1a1a" stroke="#1a1a1a" stroke-width="0.2" text-anchor="middle">Wu_TCGA_BP_TPM</text>
<g fill="#2b2399" fill-opacity="0.62"><circle cx="364.14" cy="458.47" r="2.1"/><circle cx="380.68" cy="440.95" r="2.1"/><circle cx="380.68" cy="450.29" r="2.1"/><circle cx="380.68" cy="457.88" r="2.1"/><circle cx="380.68" cy="460.22" r="2.1"/><circle cx="380.68" cy="463.14" r="2.1"/><circle cx="380.68" cy="466.64" r="2.1"/><circle cx="377.37" cy="463.14" r="2.1"/><circle cx="387.30" cy="425.77" r="2.1"/><circle cx="387.30" cy="437.45" r="2.1"/><circle cx="387.30" cy="446.79" r="2.1"/><circle cx="390.60" cy="447.37" r="2.1"/><circle cx="393.91" cy="425.77" r="2.1"/><circle cx="393.91" cy="437.45" r="2.1"/><circle cx="393.91" cy="441.53" r="2.1"/><circle cx="393.91" cy="456.13" r="2.1"/><circle cx="393.91" cy="471.31" r="2.1"/><circle cx="397.22" cy="442.12" r="2.1"/><circle cx="397.22" cy="443.87" r="2.1"/><circle cx="397.22" cy="452.04" r="2.1"/><circle cx="400.53" cy="435.11" r="2.1"/><circle cx="400.53" cy="442.12" r="2.1"/><circle cx="400.53" cy="445.04" r="2.1"/><circle cx="400.53" cy="452.04" r="2.1"/><circle cx="400.53" cy="461.39" r="2.1"/><circle cx="400.53" cy="475.40" r="2.1"/><circle cx="403.83" cy="471.31" r="2.1"/><circle cx="403.83" cy="477.74" r="2.1"/><circle cx="407.14" cy="426.35" r="2.1"/><circle cx="407.14" cy="430.44" r="2.1"/><circle cx="407.14" cy="435.11" r="2.1"/><circle cx="407.14" cy="438.03" r="2.1"/><circle cx="407.14" cy="443.87" r="2.1"/><circle cx="407.14" cy="448.54" r="2.1"/><circle cx="407.14" cy="453.80" r="2.1"/><circle cx="407.14" cy="457.88" r="2.1"/><circle cx="407.14" cy="461.39" r="2.1"/><circle cx="407.14" cy="471.90" r="2.1"/><circle cx="407.14" cy="475.99" r="2.1"/><circle cx="410.45" cy="425.18" r="2.1"/><circle cx="410.45" cy="428.69" r="2.1"/><circle cx="410.45" cy="440.36" r="2.1"/><circle cx="410.45" cy="449.71" r="2.1"/><circle cx="410.45" cy="459.05" r="2.1"/><circle cx="410.45" cy="462.55" r="2.1"/><circle cx="410.45" cy="466.06" r="2.1"/><circle cx="410.45" cy="475.99" r="2.1"/><circle cx="413.75" cy="426.93" r="2.1"/><circle cx="413.75" cy="431.61" r="2.1"/><circle cx="413.75" cy="445.04" r="2.1"/><circle cx="413.75" cy="448.54" r="2.1"/><circle cx="413.75" cy="453.80" r="2.1"/><circle cx="413.75" cy="457.88" r="2.1"/><circle cx="413.75" cy="474.23" r="2.1"/><circle cx="417.06" cy="424.60" r="2.1"/><circle cx="417.06" cy="435.69" r="2.1"/><circle cx="417.06" cy="443.87" r="2.1"/><circle cx="417.06" cy="467.81" r="2.1"/><circle cx="420.37" cy="424.01" r="2.1"/><circle cx="420.37" cy="427.52" r="2.1"/><circle cx="420.37" cy="433.36" r="2.1"/><circle cx="420.37" cy="439.20" r="2.1"/><circle cx="420.37" cy="447.37" r="2.1"/><circle cx="420.37" cy="454.38" r="2.1"/><circle cx="420.37" cy="461.39" r="2.1"/><circle cx="420.37" cy="473.07" r="2.1"/><circle cx="423.68" cy="424.60" r="2.1"/><circle cx="423.68" cy="440.95" r="2.1"/><circle cx="423.68" cy="464.89" r="2.1"/><circle cx="426.99" cy="427.52" r="2.1"/><circle cx="426.99" cy="431.61" r="2.1"/><circle cx="426.99" cy="436.86" r="2.1"/><circle cx="426.99" cy="440.36" r="2.1"/><circle cx="426.99" cy="445.62" r="2.1"/><circle cx="426.99" cy="460.22" r="2.1"/><circle cx="370.76" cy="503.36" r="2.1"/><circle cx="380.68" cy="481.17" r="2.1"/><circle cx="380.68" cy="487.59" r="2.1"/><circle cx="380.68" cy="492.85" r="2.1"/><circle cx="380.68" cy="498.10" r="2.1"/><circle cx="380.68" cy="516.20" r="2.1"/><circle cx="380.68" cy="520.64" r="2.1"/><circle cx="380.68" cy="545.99" r="2.1"/><circle cx="387.30" cy="480.00" r="2.1"/><circle cx="387.30" cy="486.42" r="2.1"/><circle cx="387.30" cy="491.68" r="2.1"/><circle cx="387.30" cy="500.44" r="2.1"/><circle cx="387.30" cy="510.60" r="2.1"/><circle cx="393.91" cy="484.67" r="2.1"/><circle cx="393.91" cy="485.84" r="2.1"/><circle cx="393.91" cy="492.26" r="2.1"/><circle cx="393.91" cy="495.77" r="2.1"/><circle cx="393.91" cy="508.03" r="2.1"/><circle cx="393.91" cy="521.46" r="2.1"/><circle cx="393.91" cy="540.73" r="2.1"/><circle cx="397.22" cy="496.93" r="2.1"/><circle cx="397.22" cy="520.29" r="2.1"/><circle cx="400.53" cy="481.75" r="2.1"/><circle cx="400.53" cy="482.92" r="2.1"/><circle cx="400.53" cy="484.67" r="2.1"/><circle cx="400.53" cy="490.51" r="2.1"/><circle cx="400.53" cy="492.85" r="2.1"/><circle cx="400.53" cy="497.52" r="2.1"/><circle cx="400.53" cy="500.44" r="2.1"/><circle cx="400.53" cy="544.23" r="2.1"/><circle cx="403.83" cy="488.18" r="2.1"/><circle cx="403.83" cy="513.28" r="2.1"/><circle cx="407.14" cy="485.84" r="2.1"/><circle cx="407.14" cy="492.85" r="2.1"/><circle cx="407.14" cy="497.52" r="2.1"/><circle cx="407.14" cy="499.27" r="2.1"/><circle cx="407.14" cy="501.02" r="2.1"/><circle cx="407.14" cy="502.77" r="2.1"/><circle cx="407.14" cy="503.94" r="2.1"/><circle cx="407.14" cy="522.63" r="2.1"/><circle cx="407.14" cy="526.72" r="2.1"/><circle cx="407.14" cy="530.22" r="2.1"/><circle cx="407.14" cy="541.90" r="2.1"/><circle cx="410.45" cy="500.44" r="2.1"/><circle cx="410.45" cy="514.45" r="2.1"/><circle cx="413.75" cy="480.00" r="2.1"/><circle cx="413.75" cy="481.75" r="2.1"/><circle cx="413.75" cy="483.50" r="2.1"/><circle cx="413.75" cy="514.45" r="2.1"/><circle cx="420.37" cy="485.84" r="2.1"/><circle cx="420.37" cy="488.76" r="2.1"/><circle cx="420.37" cy="491.09" r="2.1"/><circle cx="420.37" cy="495.77" r="2.1"/><circle cx="420.37" cy="501.61" r="2.1"/><circle cx="420.37" cy="514.45" r="2.1"/><circle cx="422.35" cy="498.69" r="2.1"/><circle cx="425.00" cy="522.63" r="2.1"/><circle cx="426.99" cy="482.34" r="2.1"/><circle cx="426.99" cy="485.84" r="2.1"/><circle cx="426.99" cy="489.34" r="2.1"/><circle cx="426.99" cy="493.43" r="2.1"/><circle cx="426.99" cy="502.77" r="2.1"/><circle cx="426.99" cy="530.80" r="2.1"/><circle cx="380.68" cy="451.59" r="2.1"/><circle cx="380.68" cy="465.17" r="2.1"/><circle cx="387.30" cy="438.02" r="2.1"/><circle cx="390.60" cy="448.35" r="2.1"/><circle cx="393.91" cy="457.78" r="2.1"/><circle cx="397.22" cy="444.49" r="2.1"/><circle cx="397.22" cy="445.62" r="2.1"/><circle cx="397.22" cy="452.75" r="2.1"/><circle cx="400.53" cy="443.51" r="2.1"/><circle cx="400.53" cy="471.98" r="2.1"/><circle cx="403.83" cy="472.56" r="2.1"/><circle cx="403.83" cy="475.42" r="2.1"/><circle cx="407.14" cy="437.85" r="2.1"/><circle cx="407.14" cy="439.19" r="2.1"/><circle cx="407.14" cy="443.38" r="2.1"/><circle cx="407.14" cy="461.97" r="2.1"/><circle cx="407.14" cy="469.35" r="2.1"/><circle cx="410.45" cy="456.73" r="2.1"/><circle cx="410.45" cy="464.06" r="2.1"/><circle cx="410.45" cy="476.87" r="2.1"/><circle cx="413.75" cy="433.98" r="2.1"/><circle cx="413.75" cy="450.52" r="2.1"/><circle cx="413.75" cy="475.69" r="2.1"/><circle cx="417.06" cy="437.73" r="2.1"/><circle cx="417.06" cy="441.32" r="2.1"/><circle cx="420.37" cy="426.32" r="2.1"/><circle cx="420.37" cy="425.00" r="2.1"/><circle cx="420.37" cy="434.26" r="2.1"/><circle cx="420.37" cy="440.11" r="2.1"/><circle cx="423.68" cy="424.42" r="2.1"/><circle cx="423.68" cy="437.52" r="2.1"/><circle cx="426.99" cy="430.01" r="2.1"/><circle cx="426.99" cy="438.24" r="2.1"/><circle cx="370.76" cy="505.40" r="2.1"/><circle cx="380.68" cy="490.62" r="2.1"/><circle cx="380.68" cy="497.78" r="2.1"/><circle cx="380.68" cy="546.47" r="2.1"/><circle cx="393.91" cy="486.23" r="2.1"/><circle cx="393.91" cy="510.83" r="2.1"/><circle cx="400.53" cy="484.62" r="2.1"/><circle cx="400.53" cy="481.75" r="2.1"/><circle cx="400.53" cy="490.86" r="2.1"/><circle cx="400.53" cy="502.60" r="2.1"/><circle cx="400.53" cy="546.33" r="2.1"/><circle cx="403.83" cy="487.02" r="2.1"/><circle cx="407.14" cy="483.38" r="2.1"/><circle cx="407.14" cy="524.77" r="2.1"/><circle cx="407.14" cy="543.50" r="2.1"/><circle cx="413.75" cy="482.67" r="2.1"/><circle cx="420.37" cy="491.21" r="2.1"/><circle cx="420.37" cy="514.70" r="2.1"/><circle cx="426.99" cy="485.62" r="2.1"/><circle cx="426.99" cy="491.45" r="2.1"/></g>
<polygon points="364.0,479.4 427.3,449.3 427.3,460.8 364.0,504.4" fill="#8c8c8c" fill-opacity="0.3"/>
<line x1="364.00" y1="492.20" x2="427.30" y2="455.00" stroke="#111" stroke-width="1.3"/>
<text x="308.0" y="429.0" font-size="8.1" fill="#1a1a1a" stroke="#1a1a1a" stroke-width="0.15"><tspan font-style="italic">R</tspan> = 0.28 , <tspan font-style="italic">p</tspan> = 4.9e-05</text>
<line x1="524.59" y1="553.00" x2="670.12" y2="553.00" stroke="#ebebeb" stroke-width="0.9"/>
<line x1="531.20" y1="413.45" x2="531.20" y2="559.64" stroke="#ebebeb" stroke-width="0.9"/>
<line x1="524.59" y1="519.77" x2="670.12" y2="519.77" stroke="#ebebeb" stroke-width="0.9"/>
<line x1="564.28" y1="413.45" x2="564.28" y2="559.64" stroke="#ebebeb" stroke-width="0.9"/>
<line x1="524.59" y1="486.55" x2="670.12" y2="486.55" stroke="#ebebeb" stroke-width="0.9"/>
<line x1="597.35" y1="413.45" x2="597.35" y2="559.64" stroke="#ebebeb" stroke-width="0.9"/>
<line x1="524.59" y1="453.32" x2="670.12" y2="453.32" stroke="#ebebeb" stroke-width="0.9"/>
<line x1="630.43" y1="413.45" x2="630.43" y2="559.64" stroke="#ebebeb" stroke-width="0.9"/>
<line x1="524.59" y1="420.10" x2="670.12" y2="420.10" stroke="#ebebeb" stroke-width="0.9"/>
<line x1="663.50" y1="413.45" x2="663.50" y2="559.64" stroke="#ebebeb" stroke-width="0.9"/>
<text x="520.79" y="556.90" font-size="9.3" fill="#4d4d4d" stroke="#4d4d4d" stroke-width="0.08" text-anchor="end">0.00</text>
<line x1="521.38" y1="553.00" x2="524.19" y2="553.00" stroke="#9a9a9a" stroke-width="0.8"/>
<text x="531.20" y="569.64" font-size="9.3" fill="#4d4d4d" stroke="#4d4d4d" stroke-width="0.08" text-anchor="middle">0.00</text>
<line x1="531.20" y1="560.04" x2="531.20" y2="562.64" stroke="#9a9a9a" stroke-width="0.8"/>
<text x="520.79" y="523.67" font-size="9.3" fill="#4d4d4d" stroke="#4d4d4d" stroke-width="0.08" text-anchor="end">0.25</text>
<line x1="521.38" y1="519.77" x2="524.19" y2="519.77" stroke="#9a9a9a" stroke-width="0.8"/>
<text x="564.28" y="569.64" font-size="9.3" fill="#4d4d4d" stroke="#4d4d4d" stroke-width="0.08" text-anchor="middle">0.25</text>
<line x1="564.28" y1="560.04" x2="564.28" y2="562.64" stroke="#9a9a9a" stroke-width="0.8"/>
<text x="520.79" y="490.45" font-size="9.3" fill="#4d4d4d" stroke="#4d4d4d" stroke-width="0.08" text-anchor="end">0.50</text>
<line x1="521.38" y1="486.55" x2="524.19" y2="486.55" stroke="#9a9a9a" stroke-width="0.8"/>
<text x="597.35" y="569.64" font-size="9.3" fill="#4d4d4d" stroke="#4d4d4d" stroke-width="0.08" text-anchor="middle">0.50</text>
<line x1="597.35" y1="560.04" x2="597.35" y2="562.64" stroke="#9a9a9a" stroke-width="0.8"/>
<text x="520.79" y="457.22" font-size="9.3" fill="#4d4d4d" stroke="#4d4d4d" stroke-width="0.08" text-anchor="end">0.75</text>
<line x1="521.38" y1="453.32" x2="524.19" y2="453.32" stroke="#9a9a9a" stroke-width="0.8"/>
<text x="630.43" y="569.64" font-size="9.3" fill="#4d4d4d" stroke="#4d4d4d" stroke-width="0.08" text-anchor="middle">0.75</text>
<line x1="630.43" y1="560.04" x2="630.43" y2="562.64" stroke="#9a9a9a" stroke-width="0.8"/>
<text x="520.79" y="424.00" font-size="9.3" fill="#4d4d4d" stroke="#4d4d4d" stroke-width="0.08" text-anchor="end">1.00</text>
<line x1="521.38" y1="420.10" x2="524.19" y2="420.10" stroke="#9a9a9a" stroke-width="0.8"/>
<text x="663.50" y="569.64" font-size="9.3" fill="#4d4d4d" stroke="#4d4d4d" stroke-width="0.08" text-anchor="middle">1.00</text>
<line x1="663.50" y1="560.04" x2="663.50" y2="562.64" stroke="#9a9a9a" stroke-width="0.8"/>
<text x="597.35" y="579.50" font-size="9.0" fill="#1a1a1a" stroke="#1a1a1a" stroke-width="0.2" text-anchor="middle">Cellularity</text>
<text x="500.09" y="486.55" font-size="9.45" fill="#1a1a1a" stroke="#1a1a1a" stroke-width="0.2" text-anchor="middle" transform="rotate(-90 500.08500000000004 486.55)">Cancer epithelial prevalence</text>
<text x="571.70" y="408.00" font-size="12.65" fill="#1a1a1a" stroke="#1a1a1a" stroke-width="0.2" text-anchor="middle">Wu_TCGA_CBX</text>
<g fill="#006400" fill-opacity="0.62"><circle cx="594.04" cy="508.47" r="2.1"/><circle cx="610.58" cy="485.11" r="2.1"/><circle cx="610.58" cy="493.87" r="2.1"/><circle cx="610.58" cy="497.37" r="2.1"/><circle cx="610.58" cy="499.71" r="2.1"/><circle cx="610.58" cy="503.80" r="2.1"/><circle cx="610.58" cy="506.72" r="2.1"/><circle cx="617.20" cy="488.03" r="2.1"/><circle cx="617.20" cy="496.20" r="2.1"/><circle cx="617.20" cy="500.29" r="2.1"/><circle cx="617.20" cy="506.72" r="2.1"/><circle cx="620.50" cy="492.12" r="2.1"/><circle cx="620.50" cy="493.87" r="2.1"/><circle cx="623.81" cy="483.94" r="2.1"/><circle cx="623.81" cy="497.96" r="2.1"/><circle cx="623.81" cy="500.29" r="2.1"/><circle cx="627.12" cy="495.04" r="2.1"/><circle cx="627.12" cy="504.38" r="2.1"/><circle cx="630.43" cy="491.53" r="2.1"/><circle cx="630.43" cy="497.37" r="2.1"/><circle cx="630.43" cy="504.38" r="2.1"/><circle cx="637.04" cy="476.93" r="2.1"/><circle cx="637.04" cy="482.77" r="2.1"/><circle cx="637.04" cy="488.03" r="2.1"/><circle cx="637.04" cy="490.95" r="2.1"/><circle cx="637.04" cy="495.04" r="2.1"/><circle cx="637.04" cy="498.54" r="2.1"/><circle cx="637.04" cy="504.38" r="2.1"/><circle cx="640.35" cy="485.11" r="2.1"/><circle cx="640.35" cy="490.95" r="2.1"/><circle cx="640.35" cy="504.38" r="2.1"/><circle cx="643.66" cy="481.61" r="2.1"/><circle cx="643.66" cy="483.94" r="2.1"/><circle cx="643.66" cy="493.87" r="2.1"/><circle cx="643.66" cy="497.37" r="2.1"/><circle cx="646.96" cy="475.18" r="2.1"/><circle cx="646.96" cy="493.87" r="2.1"/><circle cx="650.27" cy="471.68" r="2.1"/><circle cx="650.27" cy="481.02" r="2.1"/><circle cx="650.27" cy="484.53" r="2.1"/><circle cx="650.27" cy="488.03" r="2.1"/><circle cx="650.27" cy="491.53" r="2.1"/><circle cx="650.27" cy="503.21" r="2.1"/><circle cx="653.58" cy="471.68" r="2.1"/><circle cx="653.58" cy="486.28" r="2.1"/><circle cx="653.58" cy="495.04" r="2.1"/><circle cx="656.88" cy="479.85" r="2.1"/><circle cx="656.88" cy="488.61" r="2.1"/><circle cx="656.88" cy="497.37" r="2.1"/><circle cx="656.88" cy="500.88" r="2.1"/><circle cx="600.66" cy="519.60" r="2.1"/><circle cx="610.58" cy="513.18" r="2.1"/><circle cx="610.58" cy="519.01" r="2.1"/><circle cx="610.58" cy="525.44" r="2.1"/><circle cx="610.58" cy="527.19" r="2.1"/><circle cx="610.58" cy="539.45" r="2.1"/><circle cx="610.58" cy="545.88" r="2.1"/><circle cx="610.58" cy="550.55" r="2.1"/><circle cx="617.20" cy="512.59" r="2.1"/><circle cx="617.20" cy="520.18" r="2.1"/><circle cx="617.20" cy="528.94" r="2.1"/><circle cx="617.20" cy="533.03" r="2.1"/><circle cx="623.81" cy="510.84" r="2.1"/><circle cx="623.81" cy="516.09" r="2.1"/><circle cx="623.81" cy="519.01" r="2.1"/><circle cx="623.81" cy="522.52" r="2.1"/><circle cx="623.81" cy="526.02" r="2.1"/><circle cx="623.81" cy="540.04" r="2.1"/><circle cx="623.81" cy="545.29" r="2.1"/><circle cx="627.12" cy="526.61" r="2.1"/><circle cx="627.12" cy="534.78" r="2.1"/><circle cx="630.43" cy="516.09" r="2.1"/><circle cx="630.43" cy="522.52" r="2.1"/><circle cx="630.43" cy="525.44" r="2.1"/><circle cx="630.43" cy="536.53" r="2.1"/><circle cx="630.43" cy="546.46" r="2.1"/><circle cx="633.73" cy="515.51" r="2.1"/><circle cx="633.73" cy="527.19" r="2.1"/><circle cx="633.73" cy="541.20" r="2.1"/><circle cx="637.04" cy="513.18" r="2.1"/><circle cx="637.04" cy="516.68" r="2.1"/><circle cx="637.04" cy="520.18" r="2.1"/><circle cx="637.04" cy="523.69" r="2.1"/><circle cx="637.04" cy="527.19" r="2.1"/><circle cx="637.04" cy="529.53" r="2.1"/><circle cx="637.04" cy="531.86" r="2.1"/><circle cx="637.04" cy="538.87" r="2.1"/><circle cx="637.04" cy="542.37" r="2.1"/><circle cx="637.04" cy="545.29" r="2.1"/><circle cx="637.04" cy="548.80" r="2.1"/><circle cx="640.35" cy="538.87" r="2.1"/><circle cx="640.35" cy="542.37" r="2.1"/><circle cx="643.66" cy="510.84" r="2.1"/><circle cx="643.66" cy="519.60" r="2.1"/><circle cx="643.66" cy="535.95" r="2.1"/><circle cx="646.96" cy="530.69" r="2.1"/><circle cx="650.27" cy="510.26" r="2.1"/><circle cx="650.27" cy="516.09" r="2.1"/><circle cx="650.27" cy="520.18" r="2.1"/><circle cx="650.27" cy="523.69" r="2.1"/><circle cx="650.27" cy="528.36" r="2.1"/><circle cx="650.27" cy="535.36" r="2.1"/><circle cx="652.25" cy="530.69" r="2.1"/><circle cx="654.90" cy="540.04" r="2.1"/><circle cx="656.88" cy="518.43" r="2.1"/><circle cx="656.88" cy="532.45" r="2.1"/><circle cx="656.88" cy="534.20" r="2.1"/><circle cx="656.88" cy="544.71" r="2.1"/><circle cx="594.04" cy="508.74" r="2.1"/><circle cx="610.58" cy="488.31" r="2.1"/><circle cx="610.58" cy="497.18" r="2.1"/><circle cx="610.58" cy="499.24" r="2.1"/><circle cx="617.20" cy="494.04" r="2.1"/><circle cx="620.50" cy="494.07" r="2.1"/><circle cx="620.50" cy="491.73" r="2.1"/><circle cx="623.81" cy="485.25" r="2.1"/><circle cx="623.81" cy="496.94" r="2.1"/><circle cx="627.12" cy="496.65" r="2.1"/><circle cx="627.12" cy="504.45" r="2.1"/><circle cx="630.43" cy="489.42" r="2.1"/><circle cx="630.43" cy="503.51" r="2.1"/><circle cx="637.04" cy="477.14" r="2.1"/><circle cx="637.04" cy="480.70" r="2.1"/><circle cx="640.35" cy="492.63" r="2.1"/><circle cx="643.66" cy="482.65" r="2.1"/><circle cx="643.66" cy="500.86" r="2.1"/><circle cx="646.96" cy="492.04" r="2.1"/><circle cx="650.27" cy="478.20" r="2.1"/><circle cx="650.27" cy="490.06" r="2.1"/><circle cx="650.27" cy="490.85" r="2.1"/><circle cx="653.58" cy="469.59" r="2.1"/><circle cx="656.88" cy="488.65" r="2.1"/><circle cx="610.58" cy="510.17" r="2.1"/><circle cx="610.58" cy="515.78" r="2.1"/><circle cx="610.58" cy="543.67" r="2.1"/><circle cx="610.58" cy="552.93" r="2.1"/><circle cx="617.20" cy="525.88" r="2.1"/><circle cx="623.81" cy="518.78" r="2.1"/><circle cx="623.81" cy="526.73" r="2.1"/><circle cx="623.81" cy="541.44" r="2.1"/><circle cx="627.12" cy="526.28" r="2.1"/><circle cx="630.43" cy="513.96" r="2.1"/><circle cx="630.43" cy="522.61" r="2.1"/><circle cx="630.43" cy="528.19" r="2.1"/><circle cx="633.73" cy="541.90" r="2.1"/><circle cx="637.04" cy="526.57" r="2.1"/><circle cx="637.04" cy="541.64" r="2.1"/><circle cx="640.35" cy="543.93" r="2.1"/><circle cx="643.66" cy="509.73" r="2.1"/><circle cx="643.66" cy="534.94" r="2.1"/><circle cx="650.27" cy="519.21" r="2.1"/><circle cx="650.27" cy="524.80" r="2.1"/><circle cx="652.25" cy="534.19" r="2.1"/><circle cx="656.88" cy="545.52" r="2.1"/></g>
<polygon points="594.1,511.9 657.8,503.4 657.8,508.0 594.1,527.7" fill="#8c8c8c" fill-opacity="0.3"/>
<line x1="594.10" y1="520.20" x2="657.80" y2="505.30" stroke="#111" stroke-width="1.3"/>
<text x="537.9" y="429.0" font-size="8.1" fill="#1a1a1a" stroke="#1a1a1a" stroke-width="0.15"><tspan font-style="italic">R</tspan> = 0.18 , <tspan font-style="italic">p</tspan> = 0.011</text>
<text x="0" y="0" font-size="18.5" font-weight="bold" fill="#000" stroke="#000" stroke-width="0.6" transform="translate(10.9 618.2) scale(0.74 0.95)">c</text>
<text x="0" y="0" font-size="18" font-weight="bold" fill="#000" stroke="#000" stroke-width="0.5" transform="translate(251.0 618.4) scale(0.85 1)">d</text>
<text x="0" y="0" font-size="18.5" font-weight="bold" fill="#000" stroke="#000" stroke-width="0.4" transform="translate(471.5 618.4) scale(0.8 0.97)">e</text>
<line x1="25.00" y1="713.90" x2="222.90" y2="713.90" stroke="#ebebeb" stroke-width="0.7"/>
<line x1="25.00" y1="704.29" x2="222.90" y2="704.29" stroke="#ebebeb" stroke-width="0.7"/>
<line x1="25.00" y1="694.67" x2="222.90" y2="694.67" stroke="#ebebeb" stroke-width="0.7"/>
<line x1="25.00" y1="685.06" x2="222.90" y2="685.06" stroke="#ebebeb" stroke-width="0.7"/>
<line x1="25.00" y1="675.45" x2="222.90" y2="675.45" stroke="#ebebeb" stroke-width="0.7"/>
<line x1="25.00" y1="665.84" x2="222.90" y2="665.84" stroke="#ebebeb" stroke-width="0.7"/>
<line x1="25.00" y1="656.23" x2="222.90" y2="656.23" stroke="#ebebeb" stroke-width="0.7"/>
<line x1="25.00" y1="646.61" x2="222.90" y2="646.61" stroke="#ebebeb" stroke-width="0.7"/>
<line x1="25.00" y1="637.00" x2="222.90" y2="637.00" stroke="#ebebeb" stroke-width="0.7"/>
<line x1="37.25" y1="634.50" x2="37.25" y2="717.50" stroke="#ebebeb" stroke-width="0.7"/>
<line x1="58.83" y1="634.50" x2="58.83" y2="717.50" stroke="#ebebeb" stroke-width="0.7"/>
<line x1="80.40" y1="634.50" x2="80.40" y2="717.50" stroke="#ebebeb" stroke-width="0.7"/>
<line x1="101.97" y1="634.50" x2="101.97" y2="717.50" stroke="#ebebeb" stroke-width="0.7"/>
<line x1="123.55" y1="634.50" x2="123.55" y2="717.50" stroke="#ebebeb" stroke-width="0.7"/>
<line x1="145.12" y1="634.50" x2="145.12" y2="717.50" stroke="#ebebeb" stroke-width="0.7"/>
<line x1="166.70" y1="634.50" x2="166.70" y2="717.50" stroke="#ebebeb" stroke-width="0.7"/>
<line x1="188.28" y1="634.50" x2="188.28" y2="717.50" stroke="#ebebeb" stroke-width="0.7"/>
<line x1="209.85" y1="634.50" x2="209.85" y2="717.50" stroke="#ebebeb" stroke-width="0.7"/>
<rect x="27.50" y="645.77" width="19.50" height="68.13" fill="#4287c4"/>
<rect x="49.08" y="652.38" width="19.50" height="61.52" fill="#30669a"/>
<rect x="70.65" y="638.92" width="19.50" height="74.98" fill="#6ba4d4"/>
<rect x="92.22" y="655.92" width="19.50" height="57.98" fill="#2c5a88"/>
<rect x="113.80" y="661.22" width="19.50" height="52.68" fill="#1f3f62"/>
<rect x="135.38" y="647.00" width="19.50" height="66.90" fill="#4086c2"/>
<rect x="156.95" y="643.15" width="19.50" height="70.75" fill="#4b90cc"/>
<rect x="178.53" y="664.68" width="19.50" height="49.22" fill="#182c44"/>
<rect x="200.10" y="647.00" width="19.50" height="66.90" fill="#3f84bf"/>
<text x="22.60" y="716.50" font-size="7.0" fill="#4d4d4d" stroke="#4d4d4d" stroke-width="0.08" text-anchor="end">0.00</text>
<text x="22.60" y="697.27" font-size="7.0" fill="#4d4d4d" stroke="#4d4d4d" stroke-width="0.08" text-anchor="end">0.25</text>
<text x="22.60" y="678.05" font-size="7.0" fill="#4d4d4d" stroke="#4d4d4d" stroke-width="0.08" text-anchor="end">0.50</text>
<text x="22.60" y="658.83" font-size="7.0" fill="#4d4d4d" stroke="#4d4d4d" stroke-width="0.08" text-anchor="end">0.75</text>
<text x="22.60" y="639.60" font-size="7.0" fill="#4d4d4d" stroke="#4d4d4d" stroke-width="0.08" text-anchor="end">1.00</text>
<text x="24.30" y="632.00" font-size="7.7" fill="#1a1a1a" stroke="#1a1a1a" stroke-width="0.12" text-anchor="start">BayesPrism - Counts vs. TPM</text>
<text x="6.30" y="676.50" font-size="7.7" fill="#1a1a1a" stroke="#1a1a1a" stroke-width="0.12" text-anchor="middle" transform="rotate(-90 6.3 676.5)">Correlation</text>
<text x="41.65" y="723.70" font-size="7.0" fill="#4d4d4d" stroke="#4d4d4d" stroke-width="0.08" text-anchor="end" transform="rotate(-45 41.65 723.7)">Cancer-Epithelial</text>
<text x="63.23" y="723.70" font-size="7.0" fill="#4d4d4d" stroke="#4d4d4d" stroke-width="0.08" text-anchor="end" transform="rotate(-45 63.225 723.7)">Endothelial</text>
<text x="84.80" y="723.70" font-size="7.0" fill="#4d4d4d" stroke="#4d4d4d" stroke-width="0.08" text-anchor="end" transform="rotate(-45 84.80000000000001 723.7)">CAFs</text>
<text x="106.38" y="723.70" font-size="7.0" fill="#4d4d4d" stroke="#4d4d4d" stroke-width="0.08" text-anchor="end" transform="rotate(-45 106.375 723.7)">PVL</text>
<text x="127.95" y="723.70" font-size="7.0" fill="#4d4d4d" stroke="#4d4d4d" stroke-width="0.08" text-anchor="end" transform="rotate(-45 127.95 723.7)">B-cells</text>
<text x="149.53" y="723.70" font-size="7.0" fill="#4d4d4d" stroke="#4d4d4d" stroke-width="0.08" text-anchor="end" transform="rotate(-45 149.525 723.7)">T-cells</text>
<text x="171.10" y="723.70" font-size="7.0" fill="#4d4d4d" stroke="#4d4d4d" stroke-width="0.08" text-anchor="end" transform="rotate(-45 171.1 723.7)">Myeloid</text>
<text x="192.68" y="723.70" font-size="7.0" fill="#4d4d4d" stroke="#4d4d4d" stroke-width="0.08" text-anchor="end" transform="rotate(-45 192.675 723.7)">Normal-Epithelial</text>
<text x="214.25" y="723.70" font-size="7.0" fill="#4d4d4d" stroke="#4d4d4d" stroke-width="0.08" text-anchor="end" transform="rotate(-45 214.25 723.7)">Plasmablasts</text>
<line x1="255.50" y1="710.20" x2="452.00" y2="710.20" stroke="#ebebeb" stroke-width="0.7"/>
<line x1="255.50" y1="700.90" x2="452.00" y2="700.90" stroke="#ebebeb" stroke-width="0.7"/>
<line x1="255.50" y1="691.60" x2="452.00" y2="691.60" stroke="#ebebeb" stroke-width="0.7"/>
<line x1="255.50" y1="682.30" x2="452.00" y2="682.30" stroke="#ebebeb" stroke-width="0.7"/>
<line x1="255.50" y1="673.00" x2="452.00" y2="673.00" stroke="#ebebeb" stroke-width="0.7"/>
<line x1="255.50" y1="663.70" x2="452.00" y2="663.70" stroke="#ebebeb" stroke-width="0.7"/>
<line x1="255.50" y1="654.40" x2="452.00" y2="654.40" stroke="#ebebeb" stroke-width="0.7"/>
<line x1="255.50" y1="645.10" x2="452.00" y2="645.10" stroke="#ebebeb" stroke-width="0.7"/>
<line x1="267.45" y1="636.80" x2="267.45" y2="713.50" stroke="#ebebeb" stroke-width="0.7"/>
<line x1="289.00" y1="636.80" x2="289.00" y2="713.50" stroke="#ebebeb" stroke-width="0.7"/>
<line x1="310.55" y1="636.80" x2="310.55" y2="713.50" stroke="#ebebeb" stroke-width="0.7"/>
<line x1="332.10" y1="636.80" x2="332.10" y2="713.50" stroke="#ebebeb" stroke-width="0.7"/>
<line x1="353.65" y1="636.80" x2="353.65" y2="713.50" stroke="#ebebeb" stroke-width="0.7"/>
<line x1="375.20" y1="636.80" x2="375.20" y2="713.50" stroke="#ebebeb" stroke-width="0.7"/>
<line x1="396.75" y1="636.80" x2="396.75" y2="713.50" stroke="#ebebeb" stroke-width="0.7"/>
<line x1="418.30" y1="636.80" x2="418.30" y2="713.50" stroke="#ebebeb" stroke-width="0.7"/>
<line x1="439.85" y1="636.80" x2="439.85" y2="713.50" stroke="#ebebeb" stroke-width="0.7"/>
<rect x="257.85" y="643.69" width="19.20" height="66.51" fill="#e0919c"/>
<rect x="279.40" y="688.40" width="19.20" height="21.80" fill="#8b1a5e"/>
<rect x="300.95" y="665.93" width="19.20" height="44.27" fill="#b9506f"/>
<rect x="322.50" y="690.71" width="19.20" height="19.49" fill="#8a1a5f"/>
<rect x="344.05" y="675.90" width="19.20" height="34.30" fill="#a8285b"/>
<rect x="365.60" y="678.88" width="19.20" height="31.32" fill="#a02a5c"/>
<rect x="387.15" y="657.08" width="19.20" height="53.12" fill="#cc8090"/>
<rect x="408.70" y="679.62" width="19.20" height="30.58" fill="#a42a5c"/>
<rect x="430.25" y="639.67" width="19.20" height="70.53" fill="#eda0a8"/>
<text x="252.00" y="712.80" font-size="7.0" fill="#4d4d4d" stroke="#4d4d4d" stroke-width="0.08" text-anchor="end">0.00</text>
<text x="252.00" y="694.20" font-size="7.0" fill="#4d4d4d" stroke="#4d4d4d" stroke-width="0.08" text-anchor="end">0.25</text>
<text x="252.00" y="675.60" font-size="7.0" fill="#4d4d4d" stroke="#4d4d4d" stroke-width="0.08" text-anchor="end">0.50</text>
<text x="252.00" y="657.00" font-size="7.0" fill="#4d4d4d" stroke="#4d4d4d" stroke-width="0.08" text-anchor="end">0.75</text>
<text x="254.50" y="632.60" font-size="7.7" fill="#1a1a1a" stroke="#1a1a1a" stroke-width="0.12" text-anchor="start">CBX vs. BayesPrism - TPM</text>
<text x="235.60" y="675.30" font-size="7.7" fill="#1a1a1a" stroke="#1a1a1a" stroke-width="0.12" text-anchor="middle" transform="rotate(-90 235.6 675.3)">Correlation</text>
<text x="271.95" y="721.00" font-size="7.7" fill="#4d4d4d" stroke="#4d4d4d" stroke-width="0.08" text-anchor="end" transform="rotate(-45 271.95 721.0)">Cancer-Epithelial</text>
<text x="293.50" y="721.00" font-size="7.7" fill="#4d4d4d" stroke="#4d4d4d" stroke-width="0.08" text-anchor="end" transform="rotate(-45 293.5 721.0)">Endothelial</text>
<text x="315.05" y="721.00" font-size="7.7" fill="#4d4d4d" stroke="#4d4d4d" stroke-width="0.08" text-anchor="end" transform="rotate(-45 315.05 721.0)">CAFs</text>
<text x="336.60" y="721.00" font-size="7.7" fill="#4d4d4d" stroke="#4d4d4d" stroke-width="0.08" text-anchor="end" transform="rotate(-45 336.6 721.0)">PVL</text>
<text x="358.15" y="721.00" font-size="7.7" fill="#4d4d4d" stroke="#4d4d4d" stroke-width="0.08" text-anchor="end" transform="rotate(-45 358.15 721.0)">B-cells</text>
<text x="379.70" y="721.00" font-size="7.7" fill="#4d4d4d" stroke="#4d4d4d" stroke-width="0.08" text-anchor="end" transform="rotate(-45 379.7 721.0)">T-cells</text>
<text x="401.25" y="721.00" font-size="7.7" fill="#4d4d4d" stroke="#4d4d4d" stroke-width="0.08" text-anchor="end" transform="rotate(-45 401.25 721.0)">Myeloid</text>
<text x="422.80" y="721.00" font-size="7.7" fill="#4d4d4d" stroke="#4d4d4d" stroke-width="0.08" text-anchor="end" transform="rotate(-45 422.79999999999995 721.0)">Normal-Epithelial</text>
<text x="444.35" y="721.00" font-size="7.7" fill="#4d4d4d" stroke="#4d4d4d" stroke-width="0.08" text-anchor="end" transform="rotate(-45 444.35 721.0)">Plasmablasts</text>
<line x1="484.00" y1="711.70" x2="684.00" y2="711.70" stroke="#ebebeb" stroke-width="0.7"/>
<line x1="484.00" y1="700.80" x2="684.00" y2="700.80" stroke="#ebebeb" stroke-width="0.7"/>
<line x1="484.00" y1="689.89" x2="684.00" y2="689.89" stroke="#ebebeb" stroke-width="0.7"/>
<line x1="484.00" y1="678.99" x2="684.00" y2="678.99" stroke="#ebebeb" stroke-width="0.7"/>
<line x1="484.00" y1="668.08" x2="684.00" y2="668.08" stroke="#ebebeb" stroke-width="0.7"/>
<line x1="484.00" y1="657.18" x2="684.00" y2="657.18" stroke="#ebebeb" stroke-width="0.7"/>
<line x1="484.00" y1="646.27" x2="684.00" y2="646.27" stroke="#ebebeb" stroke-width="0.7"/>
<line x1="495.65" y1="639.60" x2="495.65" y2="720.50" stroke="#ebebeb" stroke-width="0.7"/>
<line x1="517.62" y1="639.60" x2="517.62" y2="720.50" stroke="#ebebeb" stroke-width="0.7"/>
<line x1="539.59" y1="639.60" x2="539.59" y2="720.50" stroke="#ebebeb" stroke-width="0.7"/>
<line x1="561.56" y1="639.60" x2="561.56" y2="720.50" stroke="#ebebeb" stroke-width="0.7"/>
<line x1="583.53" y1="639.60" x2="583.53" y2="720.50" stroke="#ebebeb" stroke-width="0.7"/>
<line x1="605.50" y1="639.60" x2="605.50" y2="720.50" stroke="#ebebeb" stroke-width="0.7"/>
<line x1="627.47" y1="639.60" x2="627.47" y2="720.50" stroke="#ebebeb" stroke-width="0.7"/>
<line x1="649.44" y1="639.60" x2="649.44" y2="720.50" stroke="#ebebeb" stroke-width="0.7"/>
<line x1="671.41" y1="639.60" x2="671.41" y2="720.50" stroke="#ebebeb" stroke-width="0.7"/>
<rect x="485.90" y="700.80" width="19.50" height="16.80" fill="#7f3f0a"/>
<rect x="507.87" y="694.70" width="19.50" height="6.10" fill="#c5620c"/>
<rect x="529.84" y="698.80" width="19.50" height="2.00" fill="#c9650f"/>
<rect x="551.81" y="700.80" width="19.50" height="6.70" fill="#a8520a"/>
<rect x="573.78" y="663.80" width="19.50" height="37.00" fill="#d99a14"/>
<rect x="595.75" y="673.20" width="19.50" height="27.60" fill="#d18a12"/>
<rect x="617.72" y="683.00" width="19.50" height="17.80" fill="#d07a0f"/>
<rect x="639.69" y="700.80" width="19.50" height="4.30" fill="#a04f0c"/>
<rect x="661.66" y="643.00" width="19.50" height="57.80" fill="#eeaa12"/>
<text x="480.20" y="703.40" font-size="7.0" fill="#4d4d4d" stroke="#4d4d4d" stroke-width="0.08" text-anchor="end">0.0</text>
<text x="480.20" y="681.59" font-size="7.0" fill="#4d4d4d" stroke="#4d4d4d" stroke-width="0.08" text-anchor="end">0.3</text>
<text x="480.20" y="659.78" font-size="7.0" fill="#4d4d4d" stroke="#4d4d4d" stroke-width="0.08" text-anchor="end">0.6</text>
<text x="482.90" y="636.00" font-size="7.7" fill="#1a1a1a" stroke="#1a1a1a" stroke-width="0.12" text-anchor="start">CBX - TPM vs. BayesPrism - Counts</text>
<text x="468.00" y="680.60" font-size="7.7" fill="#1a1a1a" stroke="#1a1a1a" stroke-width="0.12" text-anchor="middle" transform="rotate(-90 468.0 680.6)">Correlation</text>
<text x="500.10" y="728.70" font-size="7.0" fill="#4d4d4d" stroke="#4d4d4d" stroke-width="0.08" text-anchor="end" transform="rotate(-45 500.09999999999997 728.7)">Cancer-Epithelial</text>
<text x="522.07" y="728.70" font-size="7.0" fill="#4d4d4d" stroke="#4d4d4d" stroke-width="0.08" text-anchor="end" transform="rotate(-45 522.07 728.7)">Endothelial</text>
<text x="544.04" y="728.70" font-size="7.0" fill="#4d4d4d" stroke="#4d4d4d" stroke-width="0.08" text-anchor="end" transform="rotate(-45 544.04 728.7)">CAFs</text>
<text x="566.01" y="728.70" font-size="7.0" fill="#4d4d4d" stroke="#4d4d4d" stroke-width="0.08" text-anchor="end" transform="rotate(-45 566.01 728.7)">PVL</text>
<text x="587.98" y="728.70" font-size="7.0" fill="#4d4d4d" stroke="#4d4d4d" stroke-width="0.08" text-anchor="end" transform="rotate(-45 587.98 728.7)">B-cells</text>
<text x="609.95" y="728.70" font-size="7.0" fill="#4d4d4d" stroke="#4d4d4d" stroke-width="0.08" text-anchor="end" transform="rotate(-45 609.95 728.7)">T-cells</text>
<text x="631.92" y="728.70" font-size="7.0" fill="#4d4d4d" stroke="#4d4d4d" stroke-width="0.08" text-anchor="end" transform="rotate(-45 631.9200000000001 728.7)">Myeloid</text>
<text x="653.89" y="728.70" font-size="7.0" fill="#4d4d4d" stroke="#4d4d4d" stroke-width="0.08" text-anchor="end" transform="rotate(-45 653.89 728.7)">Normal-Epithelial</text>
<text x="675.86" y="728.70" font-size="7.0" fill="#4d4d4d" stroke="#4d4d4d" stroke-width="0.08" text-anchor="end" transform="rotate(-45 675.86 728.7)">Plasmablasts</text>
<text x="0" y="0" font-size="17.5" font-weight="bold" fill="#000" stroke="#000" stroke-width="0.5" transform="translate(5.4 791.7) scale(1.12 0.98)">f</text>
<text x="0" y="0" font-size="17" font-weight="bold" fill="#000" stroke="#000" stroke-width="0.5" transform="translate(351.2 789.8) scale(0.9 1)">g</text>
<g stroke="#666" stroke-width="0.55" stroke-opacity="0.6"><line x1="105.8" y1="884.67" x2="224.4" y2="899.78"/><line x1="105.8" y1="893.70" x2="224.4" y2="941.17"/><line x1="105.8" y1="875.12" x2="224.4" y2="866.91"/><line x1="105.8" y1="899.00" x2="224.4" y2="937.97"/><line x1="105.8" y1="878.15" x2="224.4" y2="868.95"/><line x1="105.8" y1="883.34" x2="224.4" y2="868.77"/><line x1="105.8" y1="899.98" x2="224.4" y2="933.15"/><line x1="105.8" y1="878.90" x2="224.4" y2="887.65"/><line x1="105.8" y1="901.37" x2="224.4" y2="881.11"/><line x1="105.8" y1="881.20" x2="224.4" y2="874.22"/><line x1="105.8" y1="899.18" x2="224.4" y2="945.99"/><line x1="105.8" y1="897.77" x2="224.4" y2="946.79"/><line x1="105.8" y1="881.49" x2="224.4" y2="917.92"/><line x1="105.8" y1="867.74" x2="224.4" y2="862.65"/><line x1="105.8" y1="895.53" x2="224.4" y2="884.19"/><line x1="105.8" y1="888.81" x2="224.4" y2="938.77"/><line x1="105.8" y1="875.74" x2="224.4" y2="866.54"/><line x1="105.8" y1="860.24" x2="224.4" y2="862.09"/><line x1="105.8" y1="877.06" x2="224.4" y2="871.55"/><line x1="105.8" y1="882.36" x2="224.4" y2="904.98"/><line x1="105.8" y1="858.47" x2="224.4" y2="865.06"/><line x1="105.8" y1="900.75" x2="224.4" y2="949.19"/><line x1="105.8" y1="865.77" x2="224.4" y2="891.70"/><line x1="105.8" y1="885.75" x2="224.4" y2="870.43"/><line x1="105.8" y1="894.15" x2="224.4" y2="901.51"/><line x1="105.8" y1="895.94" x2="224.4" y2="911.50"/><line x1="105.8" y1="885.15" x2="224.4" y2="871.18"/><line x1="105.8" y1="868.40" x2="224.4" y2="870.99"/><line x1="105.8" y1="891.68" x2="224.4" y2="879.20"/><line x1="105.8" y1="876.95" x2="224.4" y2="867.47"/><line x1="105.8" y1="875.43" x2="224.4" y2="894.01"/><line x1="105.8" y1="883.13" x2="224.4" y2="913.91"/><line x1="105.8" y1="877.84" x2="224.4" y2="895.74"/><line x1="105.8" y1="899.66" x2="224.4" y2="943.58"/><line x1="105.8" y1="899.87" x2="224.4" y2="910.76"/><line x1="105.8" y1="889.98" x2="224.4" y2="929.14"/><line x1="105.8" y1="874.34" x2="224.4" y2="876.14"/><line x1="105.8" y1="881.39" x2="224.4" y2="921.12"/><line x1="105.8" y1="884.97" x2="224.4" y2="872.12"/><line x1="105.8" y1="876.84" x2="224.4" y2="883.61"/><line x1="105.8" y1="880.58" x2="224.4" y2="887.08"/><line x1="105.8" y1="885.43" x2="224.4" y2="891.12"/><line x1="105.8" y1="869.75" x2="224.4" y2="862.83"/><line x1="105.8" y1="873.85" x2="224.4" y2="875.37"/><line x1="105.8" y1="887.40" x2="224.4" y2="873.84"/><line x1="105.8" y1="877.14" x2="224.4" y2="877.67"/><line x1="105.8" y1="878.43" x2="224.4" y2="879.01"/><line x1="105.8" y1="864.74" x2="224.4" y2="867.84"/><line x1="105.8" y1="873.04" x2="224.4" y2="904.40"/><line x1="105.8" y1="885.80" x2="224.4" y2="907.29"/><line x1="105.8" y1="858.23" x2="224.4" y2="873.65"/><line x1="105.8" y1="895.92" x2="224.4" y2="951.60"/><line x1="105.8" y1="881.69" x2="224.4" y2="872.31"/><line x1="105.8" y1="872.06" x2="224.4" y2="884.77"/><line x1="105.8" y1="893.63" x2="224.4" y2="913.11"/><line x1="105.8" y1="879.45" x2="224.4" y2="872.50"/><line x1="105.8" y1="901.25" x2="224.4" y2="916.31"/><line x1="105.8" y1="874.66" x2="224.4" y2="880.54"/><line x1="105.8" y1="871.60" x2="224.4" y2="869.88"/><line x1="105.8" y1="877.17" x2="224.4" y2="875.18"/><line x1="105.8" y1="864.72" x2="224.4" y2="863.20"/><line x1="105.8" y1="884.99" x2="224.4" y2="936.36"/><line x1="105.8" y1="873.94" x2="224.4" y2="870.62"/><line x1="105.8" y1="876.61" x2="224.4" y2="895.16"/><line x1="105.8" y1="876.99" x2="224.4" y2="892.85"/><line x1="105.8" y1="880.48" x2="224.4" y2="871.93"/><line x1="105.8" y1="866.92" x2="224.4" y2="868.21"/><line x1="105.8" y1="860.43" x2="224.4" y2="865.43"/><line x1="105.8" y1="879.92" x2="224.4" y2="871.74"/><line x1="105.8" y1="874.77" x2="224.4" y2="863.95"/><line x1="105.8" y1="899.80" x2="224.4" y2="926.74"/><line x1="105.8" y1="873.78" x2="224.4" y2="869.51"/><line x1="105.8" y1="875.22" x2="224.4" y2="874.42"/><line x1="105.8" y1="857.43" x2="224.4" y2="865.61"/><line x1="105.8" y1="868.04" x2="224.4" y2="865.24"/><line x1="105.8" y1="885.91" x2="224.4" y2="906.14"/><line x1="105.8" y1="882.71" x2="224.4" y2="886.50"/><line x1="105.8" y1="874.65" x2="224.4" y2="874.61"/><line x1="105.8" y1="902.37" x2="224.4" y2="881.88"/><line x1="105.8" y1="880.31" x2="224.4" y2="874.03"/><line x1="105.8" y1="892.54" x2="224.4" y2="879.39"/><line x1="105.8" y1="895.98" x2="224.4" y2="878.81"/><line x1="105.8" y1="899.91" x2="224.4" y2="942.78"/><line x1="105.8" y1="871.37" x2="224.4" y2="869.32"/><line x1="105.8" y1="895.16" x2="224.4" y2="878.05"/><line x1="105.8" y1="887.16" x2="224.4" y2="876.90"/><line x1="105.8" y1="882.55" x2="224.4" y2="923.53"/><line x1="105.8" y1="864.97" x2="224.4" y2="880.73"/><line x1="105.8" y1="898.45" x2="224.4" y2="924.33"/><line x1="105.8" y1="880.71" x2="224.4" y2="925.13"/><line x1="105.8" y1="877.79" x2="224.4" y2="902.09"/><line x1="105.8" y1="864.23" x2="224.4" y2="882.46"/><line x1="105.8" y1="868.20" x2="224.4" y2="865.99"/><line x1="105.8" y1="865.43" x2="224.4" y2="863.39"/><line x1="105.8" y1="886.10" x2="224.4" y2="873.46"/><line x1="105.8" y1="881.78" x2="224.4" y2="920.32"/><line x1="105.8" y1="883.56" x2="224.4" y2="877.86"/><line x1="105.8" y1="864.18" x2="224.4" y2="864.13"/><line x1="105.8" y1="859.62" x2="224.4" y2="875.95"/><line x1="105.8" y1="893.70" x2="224.4" y2="879.77"/><line x1="105.8" y1="891.99" x2="224.4" y2="874.80"/><line x1="105.8" y1="888.22" x2="224.4" y2="933.96"/><line x1="105.8" y1="888.13" x2="224.4" y2="873.08"/><line x1="105.8" y1="879.58" x2="224.4" y2="890.54"/><line x1="105.8" y1="876.75" x2="224.4" y2="877.48"/><line x1="105.8" y1="886.60" x2="224.4" y2="870.80"/><line x1="105.8" y1="903.62" x2="224.4" y2="896.32"/><line x1="105.8" y1="881.66" x2="224.4" y2="917.12"/><line x1="105.8" y1="883.23" x2="224.4" y2="900.36"/><line x1="105.8" y1="877.35" x2="224.4" y2="877.28"/><line x1="105.8" y1="859.91" x2="224.4" y2="869.69"/><line x1="105.8" y1="874.07" x2="224.4" y2="889.39"/><line x1="105.8" y1="878.69" x2="224.4" y2="896.89"/><line x1="105.8" y1="876.00" x2="224.4" y2="868.58"/><line x1="105.8" y1="874.45" x2="224.4" y2="909.02"/><line x1="105.8" y1="900.25" x2="224.4" y2="915.51"/><line x1="105.8" y1="863.23" x2="224.4" y2="868.40"/><line x1="105.8" y1="870.64" x2="224.4" y2="900.94"/><line x1="105.8" y1="864.78" x2="224.4" y2="872.70"/><line x1="105.8" y1="869.53" x2="224.4" y2="867.28"/><line x1="105.8" y1="882.50" x2="224.4" y2="888.23"/><line x1="105.8" y1="882.29" x2="224.4" y2="929.95"/><line x1="105.8" y1="896.90" x2="224.4" y2="876.52"/><line x1="105.8" y1="875.55" x2="224.4" y2="867.10"/><line x1="105.8" y1="899.69" x2="224.4" y2="879.58"/><line x1="105.8" y1="899.35" x2="224.4" y2="950.00"/><line x1="105.8" y1="889.79" x2="224.4" y2="927.54"/><line x1="105.8" y1="892.93" x2="224.4" y2="947.59"/><line x1="105.8" y1="884.15" x2="224.4" y2="875.56"/><line x1="105.8" y1="900.35" x2="224.4" y2="941.98"/><line x1="105.8" y1="903.88" x2="224.4" y2="950.80"/><line x1="105.8" y1="893.67" x2="224.4" y2="918.72"/><line x1="105.8" y1="897.04" x2="224.4" y2="880.34"/><line x1="105.8" y1="883.41" x2="224.4" y2="873.27"/><line x1="105.8" y1="902.18" x2="224.4" y2="944.38"/><line x1="105.8" y1="864.79" x2="224.4" y2="880.15"/><line x1="105.8" y1="876.09" x2="224.4" y2="864.50"/><line x1="105.8" y1="893.86" x2="224.4" y2="907.87"/><line x1="105.8" y1="886.93" x2="224.4" y2="883.03"/><line x1="105.8" y1="883.92" x2="224.4" y2="934.76"/><line x1="105.8" y1="883.39" x2="224.4" y2="935.56"/><line x1="105.8" y1="895.60" x2="224.4" y2="899.20"/><line x1="105.8" y1="866.37" x2="224.4" y2="870.25"/><line x1="105.8" y1="857.43" x2="224.4" y2="878.43"/><line x1="105.8" y1="880.17" x2="224.4" y2="867.65"/><line x1="105.8" y1="879.61" x2="224.4" y2="875.75"/><line x1="105.8" y1="898.09" x2="224.4" y2="888.81"/><line x1="105.8" y1="896.99" x2="224.4" y2="948.39"/><line x1="105.8" y1="884.07" x2="224.4" y2="872.89"/><line x1="105.8" y1="886.53" x2="224.4" y2="940.37"/><line x1="105.8" y1="867.61" x2="224.4" y2="863.02"/><line x1="105.8" y1="892.99" x2="224.4" y2="914.71"/><line x1="105.8" y1="902.34" x2="224.4" y2="939.57"/><line x1="105.8" y1="860.04" x2="224.4" y2="865.80"/><line x1="105.8" y1="878.35" x2="224.4" y2="866.36"/><line x1="105.8" y1="893.99" x2="224.4" y2="937.16"/><line x1="105.8" y1="877.96" x2="224.4" y2="910.18"/><line x1="105.8" y1="902.07" x2="224.4" y2="921.93"/><line x1="105.8" y1="878.36" x2="224.4" y2="903.25"/><line x1="105.8" y1="858.33" x2="224.4" y2="876.71"/><line x1="105.8" y1="865.47" x2="224.4" y2="879.96"/><line x1="105.8" y1="873.92" x2="224.4" y2="905.56"/><line x1="105.8" y1="886.65" x2="224.4" y2="930.75"/><line x1="105.8" y1="883.31" x2="224.4" y2="909.60"/><line x1="105.8" y1="892.61" x2="224.4" y2="928.34"/><line x1="105.8" y1="871.14" x2="224.4" y2="864.69"/><line x1="105.8" y1="878.24" x2="224.4" y2="898.05"/><line x1="105.8" y1="870.70" x2="224.4" y2="870.06"/><line x1="105.8" y1="884.48" x2="224.4" y2="925.94"/><line x1="105.8" y1="888.82" x2="224.4" y2="919.52"/><line x1="105.8" y1="868.69" x2="224.4" y2="897.47"/><line x1="105.8" y1="857.93" x2="224.4" y2="871.36"/><line x1="105.8" y1="866.14" x2="224.4" y2="892.27"/><line x1="105.8" y1="869.02" x2="224.4" y2="864.32"/><line x1="105.8" y1="868.26" x2="224.4" y2="868.02"/><line x1="105.8" y1="872.77" x2="224.4" y2="885.34"/><line x1="105.8" y1="888.57" x2="224.4" y2="908.45"/><line x1="105.8" y1="878.63" x2="224.4" y2="866.73"/><line x1="105.8" y1="883.66" x2="224.4" y2="931.55"/><line x1="105.8" y1="901.94" x2="224.4" y2="894.58"/><line x1="105.8" y1="902.01" x2="224.4" y2="932.35"/><line x1="105.8" y1="886.07" x2="224.4" y2="902.67"/><line x1="105.8" y1="886.71" x2="224.4" y2="876.33"/><line x1="105.8" y1="874.02" x2="224.4" y2="877.09"/><line x1="105.8" y1="859.70" x2="224.4" y2="866.17"/><line x1="105.8" y1="880.77" x2="224.4" y2="874.99"/><line x1="105.8" y1="860.90" x2="224.4" y2="862.28"/><line x1="105.8" y1="857.74" x2="224.4" y2="869.14"/><line x1="105.8" y1="859.79" x2="224.4" y2="862.46"/><line x1="105.8" y1="883.38" x2="224.4" y2="878.24"/><line x1="105.8" y1="889.00" x2="224.4" y2="893.43"/><line x1="105.8" y1="888.57" x2="224.4" y2="912.30"/><line x1="105.8" y1="890.60" x2="224.4" y2="922.73"/><line x1="105.8" y1="890.08" x2="224.4" y2="945.18"/><line x1="105.8" y1="875.82" x2="224.4" y2="903.82"/><line x1="105.8" y1="863.18" x2="224.4" y2="881.30"/><line x1="105.8" y1="866.89" x2="224.4" y2="863.58"/><line x1="105.8" y1="879.75" x2="224.4" y2="906.71"/><line x1="105.8" y1="875.06" x2="224.4" y2="898.63"/><line x1="105.8" y1="869.42" x2="224.4" y2="889.96"/><line x1="105.8" y1="898.17" x2="224.4" y2="885.92"/><line x1="105.8" y1="874.86" x2="224.4" y2="864.87"/><line x1="105.8" y1="862.59" x2="224.4" y2="863.76"/><line x1="105.8" y1="870.50" x2="224.4" y2="878.62"/><line x1="105.8" y1="872.49" x2="224.4" y2="880.92"/><line x1="105.8" y1="850.00" x2="224.4" y2="862.00"/><line x1="105.8" y1="876.00" x2="224.4" y2="811.90"/><line x1="105.8" y1="894.00" x2="224.4" y2="818.00"/><line x1="105.8" y1="872.00" x2="224.4" y2="826.00"/><line x1="105.8" y1="900.00" x2="224.4" y2="833.00"/><line x1="105.8" y1="888.00" x2="224.4" y2="843.00"/><line x1="105.8" y1="896.00" x2="224.4" y2="850.00"/><line x1="105.8" y1="869.00" x2="224.4" y2="855.00"/><line x1="105.8" y1="888.00" x2="224.4" y2="846.00"/><line x1="105.8" y1="880.00" x2="224.4" y2="858.00"/><line x1="105.8" y1="898.00" x2="224.4" y2="864.00"/></g>
<rect x="94.05" y="872.50" width="23.50" height="14.50" fill="#8b6914" stroke="#333" stroke-width="0.8"/>
<line x1="94.05" y1="879.10" x2="117.55" y2="879.10" stroke="#333" stroke-width="1.1"/>
<line x1="105.80" y1="855.70" x2="105.80" y2="903.90" stroke="#555" stroke-width="0.6"/>
<rect x="212.55" y="871.50" width="23.70" height="39.40" fill="#108a14" stroke="#333" stroke-width="0.8"/>
<line x1="212.55" y1="881.30" x2="236.25" y2="881.30" stroke="#333" stroke-width="1.1"/>
<line x1="224.40" y1="811.90" x2="224.40" y2="952.00" stroke="#555" stroke-width="0.6"/>
<g fill="#333" fill-opacity="0.6"><circle cx="105.8" cy="884.67" r="0.6"/><circle cx="224.4" cy="899.78" r="0.6"/><circle cx="105.8" cy="893.70" r="0.6"/><circle cx="224.4" cy="941.17" r="0.6"/><circle cx="105.8" cy="875.12" r="0.6"/><circle cx="224.4" cy="866.91" r="0.6"/><circle cx="105.8" cy="899.00" r="0.6"/><circle cx="224.4" cy="937.97" r="0.6"/><circle cx="105.8" cy="878.15" r="0.6"/><circle cx="224.4" cy="868.95" r="0.6"/><circle cx="105.8" cy="883.34" r="0.6"/><circle cx="224.4" cy="868.77" r="0.6"/><circle cx="105.8" cy="899.98" r="0.6"/><circle cx="224.4" cy="933.15" r="0.6"/><circle cx="105.8" cy="878.90" r="0.6"/><circle cx="224.4" cy="887.65" r="0.6"/><circle cx="105.8" cy="901.37" r="0.6"/><circle cx="224.4" cy="881.11" r="0.6"/><circle cx="105.8" cy="881.20" r="0.6"/><circle cx="224.4" cy="874.22" r="0.6"/><circle cx="105.8" cy="899.18" r="0.6"/><circle cx="224.4" cy="945.99" r="0.6"/><circle cx="105.8" cy="897.77" r="0.6"/><circle cx="224.4" cy="946.79" r="0.6"/><circle cx="105.8" cy="881.49" r="0.6"/><circle cx="224.4" cy="917.92" r="0.6"/><circle cx="105.8" cy="867.74" r="0.6"/><circle cx="224.4" cy="862.65" r="0.6"/><circle cx="105.8" cy="895.53" r="0.6"/><circle cx="224.4" cy="884.19" r="0.6"/><circle cx="105.8" cy="888.81" r="0.6"/><circle cx="224.4" cy="938.77" r="0.6"/><circle cx="105.8" cy="875.74" r="0.6"/><circle cx="224.4" cy="866.54" r="0.6"/><circle cx="105.8" cy="860.24" r="0.6"/><circle cx="224.4" cy="862.09" r="0.6"/><circle cx="105.8" cy="877.06" r="0.6"/><circle cx="224.4" cy="871.55" r="0.6"/><circle cx="105.8" cy="882.36" r="0.6"/><circle cx="224.4" cy="904.98" r="0.6"/><circle cx="105.8" cy="858.47" r="0.6"/><circle cx="224.4" cy="865.06" r="0.6"/><circle cx="105.8" cy="900.75" r="0.6"/><circle cx="224.4" cy="949.19" r="0.6"/><circle cx="105.8" cy="865.77" r="0.6"/><circle cx="224.4" cy="891.70" r="0.6"/><circle cx="105.8" cy="885.75" r="0.6"/><circle cx="224.4" cy="870.43" r="0.6"/><circle cx="105.8" cy="894.15" r="0.6"/><circle cx="224.4" cy="901.51" r="0.6"/><circle cx="105.8" cy="895.94" r="0.6"/><circle cx="224.4" cy="911.50" r="0.6"/><circle cx="105.8" cy="885.15" r="0.6"/><circle cx="224.4" cy="871.18" r="0.6"/><circle cx="105.8" cy="868.40" r="0.6"/><circle cx="224.4" cy="870.99" r="0.6"/><circle cx="105.8" cy="891.68" r="0.6"/><circle cx="224.4" cy="879.20" r="0.6"/><circle cx="105.8" cy="876.95" r="0.6"/><circle cx="224.4" cy="867.47" r="0.6"/><circle cx="105.8" cy="875.43" r="0.6"/><circle cx="224.4" cy="894.01" r="0.6"/><circle cx="105.8" cy="883.13" r="0.6"/><circle cx="224.4" cy="913.91" r="0.6"/><circle cx="105.8" cy="877.84" r="0.6"/><circle cx="224.4" cy="895.74" r="0.6"/><circle cx="105.8" cy="899.66" r="0.6"/><circle cx="224.4" cy="943.58" r="0.6"/><circle cx="105.8" cy="899.87" r="0.6"/><circle cx="224.4" cy="910.76" r="0.6"/><circle cx="105.8" cy="889.98" r="0.6"/><circle cx="224.4" cy="929.14" r="0.6"/><circle cx="105.8" cy="874.34" r="0.6"/><circle cx="224.4" cy="876.14" r="0.6"/><circle cx="105.8" cy="881.39" r="0.6"/><circle cx="224.4" cy="921.12" r="0.6"/><circle cx="105.8" cy="884.97" r="0.6"/><circle cx="224.4" cy="872.12" r="0.6"/><circle cx="105.8" cy="876.84" r="0.6"/><circle cx="224.4" cy="883.61" r="0.6"/><circle cx="105.8" cy="880.58" r="0.6"/><circle cx="224.4" cy="887.08" r="0.6"/><circle cx="105.8" cy="885.43" r="0.6"/><circle cx="224.4" cy="891.12" r="0.6"/><circle cx="105.8" cy="869.75" r="0.6"/><circle cx="224.4" cy="862.83" r="0.6"/><circle cx="105.8" cy="873.85" r="0.6"/><circle cx="224.4" cy="875.37" r="0.6"/><circle cx="105.8" cy="887.40" r="0.6"/><circle cx="224.4" cy="873.84" r="0.6"/><circle cx="105.8" cy="877.14" r="0.6"/><circle cx="224.4" cy="877.67" r="0.6"/><circle cx="105.8" cy="878.43" r="0.6"/><circle cx="224.4" cy="879.01" r="0.6"/><circle cx="105.8" cy="864.74" r="0.6"/><circle cx="224.4" cy="867.84" r="0.6"/><circle cx="105.8" cy="873.04" r="0.6"/><circle cx="224.4" cy="904.40" r="0.6"/><circle cx="105.8" cy="885.80" r="0.6"/><circle cx="224.4" cy="907.29" r="0.6"/><circle cx="105.8" cy="858.23" r="0.6"/><circle cx="224.4" cy="873.65" r="0.6"/><circle cx="105.8" cy="895.92" r="0.6"/><circle cx="224.4" cy="951.60" r="0.6"/><circle cx="105.8" cy="881.69" r="0.6"/><circle cx="224.4" cy="872.31" r="0.6"/><circle cx="105.8" cy="872.06" r="0.6"/><circle cx="224.4" cy="884.77" r="0.6"/><circle cx="105.8" cy="893.63" r="0.6"/><circle cx="224.4" cy="913.11" r="0.6"/><circle cx="105.8" cy="879.45" r="0.6"/><circle cx="224.4" cy="872.50" r="0.6"/><circle cx="105.8" cy="901.25" r="0.6"/><circle cx="224.4" cy="916.31" r="0.6"/><circle cx="105.8" cy="874.66" r="0.6"/><circle cx="224.4" cy="880.54" r="0.6"/><circle cx="105.8" cy="871.60" r="0.6"/><circle cx="224.4" cy="869.88" r="0.6"/><circle cx="105.8" cy="877.17" r="0.6"/><circle cx="224.4" cy="875.18" r="0.6"/><circle cx="105.8" cy="864.72" r="0.6"/><circle cx="224.4" cy="863.20" r="0.6"/><circle cx="105.8" cy="884.99" r="0.6"/><circle cx="224.4" cy="936.36" r="0.6"/><circle cx="105.8" cy="873.94" r="0.6"/><circle cx="224.4" cy="870.62" r="0.6"/><circle cx="105.8" cy="876.61" r="0.6"/><circle cx="224.4" cy="895.16" r="0.6"/><circle cx="105.8" cy="876.99" r="0.6"/><circle cx="224.4" cy="892.85" r="0.6"/><circle cx="105.8" cy="880.48" r="0.6"/><circle cx="224.4" cy="871.93" r="0.6"/><circle cx="105.8" cy="866.92" r="0.6"/><circle cx="224.4" cy="868.21" r="0.6"/><circle cx="105.8" cy="860.43" r="0.6"/><circle cx="224.4" cy="865.43" r="0.6"/><circle cx="105.8" cy="879.92" r="0.6"/><circle cx="224.4" cy="871.74" r="0.6"/><circle cx="105.8" cy="874.77" r="0.6"/><circle cx="224.4" cy="863.95" r="0.6"/><circle cx="105.8" cy="899.80" r="0.6"/><circle cx="224.4" cy="926.74" r="0.6"/><circle cx="105.8" cy="873.78" r="0.6"/><circle cx="224.4" cy="869.51" r="0.6"/><circle cx="105.8" cy="875.22" r="0.6"/><circle cx="224.4" cy="874.42" r="0.6"/><circle cx="105.8" cy="857.43" r="0.6"/><circle cx="224.4" cy="865.61" r="0.6"/><circle cx="105.8" cy="868.04" r="0.6"/><circle cx="224.4" cy="865.24" r="0.6"/><circle cx="105.8" cy="885.91" r="0.6"/><circle cx="224.4" cy="906.14" r="0.6"/><circle cx="105.8" cy="882.71" r="0.6"/><circle cx="224.4" cy="886.50" r="0.6"/><circle cx="105.8" cy="874.65" r="0.6"/><circle cx="224.4" cy="874.61" r="0.6"/><circle cx="105.8" cy="902.37" r="0.6"/><circle cx="224.4" cy="881.88" r="0.6"/><circle cx="105.8" cy="880.31" r="0.6"/><circle cx="224.4" cy="874.03" r="0.6"/><circle cx="105.8" cy="892.54" r="0.6"/><circle cx="224.4" cy="879.39" r="0.6"/><circle cx="105.8" cy="895.98" r="0.6"/><circle cx="224.4" cy="878.81" r="0.6"/><circle cx="105.8" cy="899.91" r="0.6"/><circle cx="224.4" cy="942.78" r="0.6"/><circle cx="105.8" cy="871.37" r="0.6"/><circle cx="224.4" cy="869.32" r="0.6"/><circle cx="105.8" cy="895.16" r="0.6"/><circle cx="224.4" cy="878.05" r="0.6"/><circle cx="105.8" cy="887.16" r="0.6"/><circle cx="224.4" cy="876.90" r="0.6"/><circle cx="105.8" cy="882.55" r="0.6"/><circle cx="224.4" cy="923.53" r="0.6"/><circle cx="105.8" cy="864.97" r="0.6"/><circle cx="224.4" cy="880.73" r="0.6"/><circle cx="105.8" cy="898.45" r="0.6"/><circle cx="224.4" cy="924.33" r="0.6"/><circle cx="105.8" cy="880.71" r="0.6"/><circle cx="224.4" cy="925.13" r="0.6"/><circle cx="105.8" cy="877.79" r="0.6"/><circle cx="224.4" cy="902.09" r="0.6"/><circle cx="105.8" cy="864.23" r="0.6"/><circle cx="224.4" cy="882.46" r="0.6"/><circle cx="105.8" cy="868.20" r="0.6"/><circle cx="224.4" cy="865.99" r="0.6"/><circle cx="105.8" cy="865.43" r="0.6"/><circle cx="224.4" cy="863.39" r="0.6"/><circle cx="105.8" cy="886.10" r="0.6"/><circle cx="224.4" cy="873.46" r="0.6"/><circle cx="105.8" cy="881.78" r="0.6"/><circle cx="224.4" cy="920.32" r="0.6"/><circle cx="105.8" cy="883.56" r="0.6"/><circle cx="224.4" cy="877.86" r="0.6"/><circle cx="105.8" cy="864.18" r="0.6"/><circle cx="224.4" cy="864.13" r="0.6"/><circle cx="105.8" cy="859.62" r="0.6"/><circle cx="224.4" cy="875.95" r="0.6"/><circle cx="105.8" cy="893.70" r="0.6"/><circle cx="224.4" cy="879.77" r="0.6"/><circle cx="105.8" cy="891.99" r="0.6"/><circle cx="224.4" cy="874.80" r="0.6"/><circle cx="105.8" cy="888.22" r="0.6"/><circle cx="224.4" cy="933.96" r="0.6"/><circle cx="105.8" cy="888.13" r="0.6"/><circle cx="224.4" cy="873.08" r="0.6"/><circle cx="105.8" cy="879.58" r="0.6"/><circle cx="224.4" cy="890.54" r="0.6"/><circle cx="105.8" cy="876.75" r="0.6"/><circle cx="224.4" cy="877.48" r="0.6"/><circle cx="105.8" cy="886.60" r="0.6"/><circle cx="224.4" cy="870.80" r="0.6"/><circle cx="105.8" cy="903.62" r="0.6"/><circle cx="224.4" cy="896.32" r="0.6"/><circle cx="105.8" cy="881.66" r="0.6"/><circle cx="224.4" cy="917.12" r="0.6"/><circle cx="105.8" cy="883.23" r="0.6"/><circle cx="224.4" cy="900.36" r="0.6"/><circle cx="105.8" cy="877.35" r="0.6"/><circle cx="224.4" cy="877.28" r="0.6"/><circle cx="105.8" cy="859.91" r="0.6"/><circle cx="224.4" cy="869.69" r="0.6"/><circle cx="105.8" cy="874.07" r="0.6"/><circle cx="224.4" cy="889.39" r="0.6"/><circle cx="105.8" cy="878.69" r="0.6"/><circle cx="224.4" cy="896.89" r="0.6"/><circle cx="105.8" cy="876.00" r="0.6"/><circle cx="224.4" cy="868.58" r="0.6"/><circle cx="105.8" cy="874.45" r="0.6"/><circle cx="224.4" cy="909.02" r="0.6"/><circle cx="105.8" cy="900.25" r="0.6"/><circle cx="224.4" cy="915.51" r="0.6"/><circle cx="105.8" cy="863.23" r="0.6"/><circle cx="224.4" cy="868.40" r="0.6"/><circle cx="105.8" cy="870.64" r="0.6"/><circle cx="224.4" cy="900.94" r="0.6"/><circle cx="105.8" cy="864.78" r="0.6"/><circle cx="224.4" cy="872.70" r="0.6"/><circle cx="105.8" cy="869.53" r="0.6"/><circle cx="224.4" cy="867.28" r="0.6"/><circle cx="105.8" cy="882.50" r="0.6"/><circle cx="224.4" cy="888.23" r="0.6"/><circle cx="105.8" cy="882.29" r="0.6"/><circle cx="224.4" cy="929.95" r="0.6"/><circle cx="105.8" cy="896.90" r="0.6"/><circle cx="224.4" cy="876.52" r="0.6"/><circle cx="105.8" cy="875.55" r="0.6"/><circle cx="224.4" cy="867.10" r="0.6"/><circle cx="105.8" cy="899.69" r="0.6"/><circle cx="224.4" cy="879.58" r="0.6"/><circle cx="105.8" cy="899.35" r="0.6"/><circle cx="224.4" cy="950.00" r="0.6"/><circle cx="105.8" cy="889.79" r="0.6"/><circle cx="224.4" cy="927.54" r="0.6"/><circle cx="105.8" cy="892.93" r="0.6"/><circle cx="224.4" cy="947.59" r="0.6"/><circle cx="105.8" cy="884.15" r="0.6"/><circle cx="224.4" cy="875.56" r="0.6"/><circle cx="105.8" cy="900.35" r="0.6"/><circle cx="224.4" cy="941.98" r="0.6"/><circle cx="105.8" cy="903.88" r="0.6"/><circle cx="224.4" cy="950.80" r="0.6"/><circle cx="105.8" cy="893.67" r="0.6"/><circle cx="224.4" cy="918.72" r="0.6"/><circle cx="105.8" cy="897.04" r="0.6"/><circle cx="224.4" cy="880.34" r="0.6"/><circle cx="105.8" cy="883.41" r="0.6"/><circle cx="224.4" cy="873.27" r="0.6"/><circle cx="105.8" cy="902.18" r="0.6"/><circle cx="224.4" cy="944.38" r="0.6"/><circle cx="105.8" cy="864.79" r="0.6"/><circle cx="224.4" cy="880.15" r="0.6"/><circle cx="105.8" cy="876.09" r="0.6"/><circle cx="224.4" cy="864.50" r="0.6"/><circle cx="105.8" cy="893.86" r="0.6"/><circle cx="224.4" cy="907.87" r="0.6"/><circle cx="105.8" cy="886.93" r="0.6"/><circle cx="224.4" cy="883.03" r="0.6"/><circle cx="105.8" cy="883.92" r="0.6"/><circle cx="224.4" cy="934.76" r="0.6"/><circle cx="105.8" cy="883.39" r="0.6"/><circle cx="224.4" cy="935.56" r="0.6"/><circle cx="105.8" cy="895.60" r="0.6"/><circle cx="224.4" cy="899.20" r="0.6"/><circle cx="105.8" cy="866.37" r="0.6"/><circle cx="224.4" cy="870.25" r="0.6"/><circle cx="105.8" cy="857.43" r="0.6"/><circle cx="224.4" cy="878.43" r="0.6"/><circle cx="105.8" cy="880.17" r="0.6"/><circle cx="224.4" cy="867.65" r="0.6"/><circle cx="105.8" cy="879.61" r="0.6"/><circle cx="224.4" cy="875.75" r="0.6"/><circle cx="105.8" cy="898.09" r="0.6"/><circle cx="224.4" cy="888.81" r="0.6"/><circle cx="105.8" cy="896.99" r="0.6"/><circle cx="224.4" cy="948.39" r="0.6"/><circle cx="105.8" cy="884.07" r="0.6"/><circle cx="224.4" cy="872.89" r="0.6"/><circle cx="105.8" cy="886.53" r="0.6"/><circle cx="224.4" cy="940.37" r="0.6"/><circle cx="105.8" cy="867.61" r="0.6"/><circle cx="224.4" cy="863.02" r="0.6"/><circle cx="105.8" cy="892.99" r="0.6"/><circle cx="224.4" cy="914.71" r="0.6"/><circle cx="105.8" cy="902.34" r="0.6"/><circle cx="224.4" cy="939.57" r="0.6"/><circle cx="105.8" cy="860.04" r="0.6"/><circle cx="224.4" cy="865.80" r="0.6"/><circle cx="105.8" cy="878.35" r="0.6"/><circle cx="224.4" cy="866.36" r="0.6"/><circle cx="105.8" cy="893.99" r="0.6"/><circle cx="224.4" cy="937.16" r="0.6"/><circle cx="105.8" cy="877.96" r="0.6"/><circle cx="224.4" cy="910.18" r="0.6"/><circle cx="105.8" cy="902.07" r="0.6"/><circle cx="224.4" cy="921.93" r="0.6"/><circle cx="105.8" cy="878.36" r="0.6"/><circle cx="224.4" cy="903.25" r="0.6"/><circle cx="105.8" cy="858.33" r="0.6"/><circle cx="224.4" cy="876.71" r="0.6"/><circle cx="105.8" cy="865.47" r="0.6"/><circle cx="224.4" cy="879.96" r="0.6"/><circle cx="105.8" cy="873.92" r="0.6"/><circle cx="224.4" cy="905.56" r="0.6"/><circle cx="105.8" cy="886.65" r="0.6"/><circle cx="224.4" cy="930.75" r="0.6"/><circle cx="105.8" cy="883.31" r="0.6"/><circle cx="224.4" cy="909.60" r="0.6"/><circle cx="105.8" cy="892.61" r="0.6"/><circle cx="224.4" cy="928.34" r="0.6"/><circle cx="105.8" cy="871.14" r="0.6"/><circle cx="224.4" cy="864.69" r="0.6"/><circle cx="105.8" cy="878.24" r="0.6"/><circle cx="224.4" cy="898.05" r="0.6"/><circle cx="105.8" cy="870.70" r="0.6"/><circle cx="224.4" cy="870.06" r="0.6"/><circle cx="105.8" cy="884.48" r="0.6"/><circle cx="224.4" cy="925.94" r="0.6"/><circle cx="105.8" cy="888.82" r="0.6"/><circle cx="224.4" cy="919.52" r="0.6"/><circle cx="105.8" cy="868.69" r="0.6"/><circle cx="224.4" cy="897.47" r="0.6"/><circle cx="105.8" cy="857.93" r="0.6"/><circle cx="224.4" cy="871.36" r="0.6"/><circle cx="105.8" cy="866.14" r="0.6"/><circle cx="224.4" cy="892.27" r="0.6"/><circle cx="105.8" cy="869.02" r="0.6"/><circle cx="224.4" cy="864.32" r="0.6"/><circle cx="105.8" cy="868.26" r="0.6"/><circle cx="224.4" cy="868.02" r="0.6"/><circle cx="105.8" cy="872.77" r="0.6"/><circle cx="224.4" cy="885.34" r="0.6"/><circle cx="105.8" cy="888.57" r="0.6"/><circle cx="224.4" cy="908.45" r="0.6"/><circle cx="105.8" cy="878.63" r="0.6"/><circle cx="224.4" cy="866.73" r="0.6"/><circle cx="105.8" cy="883.66" r="0.6"/><circle cx="224.4" cy="931.55" r="0.6"/><circle cx="105.8" cy="901.94" r="0.6"/><circle cx="224.4" cy="894.58" r="0.6"/><circle cx="105.8" cy="902.01" r="0.6"/><circle cx="224.4" cy="932.35" r="0.6"/><circle cx="105.8" cy="886.07" r="0.6"/><circle cx="224.4" cy="902.67" r="0.6"/><circle cx="105.8" cy="886.71" r="0.6"/><circle cx="224.4" cy="876.33" r="0.6"/><circle cx="105.8" cy="874.02" r="0.6"/><circle cx="224.4" cy="877.09" r="0.6"/><circle cx="105.8" cy="859.70" r="0.6"/><circle cx="224.4" cy="866.17" r="0.6"/><circle cx="105.8" cy="880.77" r="0.6"/><circle cx="224.4" cy="874.99" r="0.6"/><circle cx="105.8" cy="860.90" r="0.6"/><circle cx="224.4" cy="862.28" r="0.6"/><circle cx="105.8" cy="857.74" r="0.6"/><circle cx="224.4" cy="869.14" r="0.6"/><circle cx="105.8" cy="859.79" r="0.6"/><circle cx="224.4" cy="862.46" r="0.6"/><circle cx="105.8" cy="883.38" r="0.6"/><circle cx="224.4" cy="878.24" r="0.6"/><circle cx="105.8" cy="889.00" r="0.6"/><circle cx="224.4" cy="893.43" r="0.6"/><circle cx="105.8" cy="888.57" r="0.6"/><circle cx="224.4" cy="912.30" r="0.6"/><circle cx="105.8" cy="890.60" r="0.6"/><circle cx="224.4" cy="922.73" r="0.6"/><circle cx="105.8" cy="890.08" r="0.6"/><circle cx="224.4" cy="945.18" r="0.6"/><circle cx="105.8" cy="875.82" r="0.6"/><circle cx="224.4" cy="903.82" r="0.6"/><circle cx="105.8" cy="863.18" r="0.6"/><circle cx="224.4" cy="881.30" r="0.6"/><circle cx="105.8" cy="866.89" r="0.6"/><circle cx="224.4" cy="863.58" r="0.6"/><circle cx="105.8" cy="879.75" r="0.6"/><circle cx="224.4" cy="906.71" r="0.6"/><circle cx="105.8" cy="875.06" r="0.6"/><circle cx="224.4" cy="898.63" r="0.6"/><circle cx="105.8" cy="869.42" r="0.6"/><circle cx="224.4" cy="889.96" r="0.6"/><circle cx="105.8" cy="898.17" r="0.6"/><circle cx="224.4" cy="885.92" r="0.6"/><circle cx="105.8" cy="874.86" r="0.6"/><circle cx="224.4" cy="864.87" r="0.6"/><circle cx="105.8" cy="862.59" r="0.6"/><circle cx="224.4" cy="863.76" r="0.6"/><circle cx="105.8" cy="870.50" r="0.6"/><circle cx="224.4" cy="878.62" r="0.6"/><circle cx="105.8" cy="872.49" r="0.6"/><circle cx="224.4" cy="880.92" r="0.6"/><circle cx="105.8" cy="850.00" r="0.6"/><circle cx="224.4" cy="862.00" r="0.6"/><circle cx="105.8" cy="876.00" r="0.6"/><circle cx="224.4" cy="811.90" r="0.6"/><circle cx="105.8" cy="894.00" r="0.6"/><circle cx="224.4" cy="818.00" r="0.6"/><circle cx="105.8" cy="872.00" r="0.6"/><circle cx="224.4" cy="826.00" r="0.6"/><circle cx="105.8" cy="900.00" r="0.6"/><circle cx="224.4" cy="833.00" r="0.6"/><circle cx="105.8" cy="888.00" r="0.6"/><circle cx="224.4" cy="843.00" r="0.6"/><circle cx="105.8" cy="896.00" r="0.6"/><circle cx="224.4" cy="850.00" r="0.6"/><circle cx="105.8" cy="869.00" r="0.6"/><circle cx="224.4" cy="855.00" r="0.6"/><circle cx="105.8" cy="888.00" r="0.6"/><circle cx="224.4" cy="846.00" r="0.6"/><circle cx="105.8" cy="880.00" r="0.6"/><circle cx="224.4" cy="858.00" r="0.6"/><circle cx="105.8" cy="898.00" r="0.6"/><circle cx="224.4" cy="864.00" r="0.6"/></g>
<path d="M34.6 805.3 V959.0 H295.0" fill="none" stroke="#666" stroke-width="1.05"/>
<line x1="31.80" y1="809.30" x2="34.60" y2="809.30" stroke="#666" stroke-width="0.9"/>
<text x="32.40" y="812.50" font-size="8.9" fill="#4d4d4d" stroke="#4d4d4d" stroke-width="0.08" text-anchor="end">1.5</text>
<line x1="31.80" y1="861.80" x2="34.60" y2="861.80" stroke="#666" stroke-width="0.9"/>
<text x="32.40" y="865.00" font-size="8.9" fill="#4d4d4d" stroke="#4d4d4d" stroke-width="0.08" text-anchor="end">1.0</text>
<line x1="31.80" y1="915.20" x2="34.60" y2="915.20" stroke="#666" stroke-width="0.9"/>
<text x="32.40" y="918.40" font-size="8.9" fill="#4d4d4d" stroke="#4d4d4d" stroke-width="0.08" text-anchor="end">0.5</text>
<line x1="105.80" y1="959.00" x2="105.80" y2="961.50" stroke="#666" stroke-width="0.9"/>
<text x="105.80" y="967.60" font-size="7.7" fill="#4d4d4d" stroke="#4d4d4d" stroke-width="0.08" text-anchor="middle">Melanoma_TCGA_CBX</text>
<line x1="224.40" y1="959.00" x2="224.40" y2="961.50" stroke="#666" stroke-width="0.9"/>
<text x="224.40" y="967.60" font-size="7.7" fill="#4d4d4d" stroke="#4d4d4d" stroke-width="0.08" text-anchor="middle">Wu_TCGA_CBX</text>
<text x="164.20" y="975.60" font-size="7.7" fill="#1a1a1a" stroke="#1a1a1a" stroke-width="0.12" text-anchor="middle">Analysis</text>
<text x="17.00" y="882.20" font-size="7.5" fill="#1a1a1a" stroke="#1a1a1a" stroke-width="0.12" text-anchor="middle" transform="rotate(-90 17.0 882.2)">RMSE</text>
<text x="96.30" y="812.90" font-size="9.2" fill="#1a1a1a" stroke="#1a1a1a" stroke-width="0.2" text-anchor="start">p = 3.2e-09</text>
<g stroke="#666" stroke-width="0.55" stroke-opacity="0.6"><line x1="470.7" y1="893.20" x2="586.9" y2="854.63"/><line x1="470.7" y1="879.69" x2="586.9" y2="820.33"/><line x1="470.7" y1="915.08" x2="586.9" y2="848.29"/><line x1="470.7" y1="880.80" x2="586.9" y2="826.33"/><line x1="470.7" y1="895.62" x2="586.9" y2="901.28"/><line x1="470.7" y1="835.77" x2="586.9" y2="822.91"/><line x1="470.7" y1="834.61" x2="586.9" y2="812.64"/><line x1="470.7" y1="872.99" x2="586.9" y2="816.64"/><line x1="470.7" y1="897.80" x2="586.9" y2="856.39"/><line x1="470.7" y1="835.35" x2="586.9" y2="813.09"/><line x1="470.7" y1="891.86" x2="586.9" y2="897.09"/><line x1="470.7" y1="888.05" x2="586.9" y2="851.46"/><line x1="470.7" y1="946.19" x2="586.9" y2="856.04"/><line x1="470.7" y1="886.01" x2="586.9" y2="833.19"/><line x1="470.7" y1="878.46" x2="586.9" y2="825.48"/><line x1="470.7" y1="876.20" x2="586.9" y2="816.73"/><line x1="470.7" y1="906.45" x2="586.9" y2="888.71"/><line x1="470.7" y1="876.06" x2="586.9" y2="852.52"/><line x1="470.7" y1="945.42" x2="586.9" y2="915.94"/><line x1="470.7" y1="895.55" x2="586.9" y2="853.57"/><line x1="470.7" y1="928.56" x2="586.9" y2="863.58"/><line x1="470.7" y1="884.56" x2="586.9" y2="827.62"/><line x1="470.7" y1="938.12" x2="586.9" y2="869.86"/><line x1="470.7" y1="941.93" x2="586.9" y2="880.33"/><line x1="470.7" y1="892.30" x2="586.9" y2="842.66"/><line x1="470.7" y1="900.12" x2="586.9" y2="859.91"/><line x1="470.7" y1="870.20" x2="586.9" y2="829.33"/><line x1="470.7" y1="874.29" x2="586.9" y2="854.28"/><line x1="470.7" y1="858.24" x2="586.9" y2="814.42"/><line x1="470.7" y1="864.99" x2="586.9" y2="840.47"/><line x1="470.7" y1="860.76" x2="586.9" y2="813.98"/><line x1="470.7" y1="844.56" x2="586.9" y2="813.62"/><line x1="470.7" y1="885.37" x2="586.9" y2="853.22"/><line x1="470.7" y1="890.52" x2="586.9" y2="876.14"/><line x1="470.7" y1="833.32" x2="586.9" y2="815.58"/><line x1="470.7" y1="916.69" x2="586.9" y2="857.80"/><line x1="470.7" y1="860.17" x2="586.9" y2="815.84"/><line x1="470.7" y1="866.03" x2="586.9" y2="844.77"/><line x1="470.7" y1="937.69" x2="586.9" y2="916.98"/><line x1="470.7" y1="849.23" x2="586.9" y2="815.49"/><line x1="470.7" y1="843.20" x2="586.9" y2="814.07"/><line x1="470.7" y1="867.18" x2="586.9" y2="833.62"/><line x1="470.7" y1="859.47" x2="586.9" y2="831.05"/><line x1="470.7" y1="851.68" x2="586.9" y2="815.04"/><line x1="470.7" y1="918.71" x2="586.9" y2="914.89"/><line x1="470.7" y1="874.68" x2="586.9" y2="846.18"/><line x1="470.7" y1="876.08" x2="586.9" y2="842.31"/><line x1="470.7" y1="849.26" x2="586.9" y2="812.47"/><line x1="470.7" y1="852.48" x2="586.9" y2="814.87"/><line x1="470.7" y1="850.17" x2="586.9" y2="812.82"/><line x1="470.7" y1="870.31" x2="586.9" y2="832.76"/><line x1="470.7" y1="843.10" x2="586.9" y2="818.19"/><line x1="470.7" y1="863.16" x2="586.9" y2="835.33"/><line x1="470.7" y1="862.40" x2="586.9" y2="813.89"/><line x1="470.7" y1="900.69" x2="586.9" y2="848.64"/><line x1="470.7" y1="940.21" x2="586.9" y2="907.56"/><line x1="470.7" y1="919.94" x2="586.9" y2="913.84"/><line x1="470.7" y1="887.71" x2="586.9" y2="847.59"/><line x1="470.7" y1="925.54" x2="586.9" y2="860.61"/><line x1="470.7" y1="849.17" x2="586.9" y2="816.38"/><line x1="470.7" y1="872.16" x2="586.9" y2="845.12"/><line x1="470.7" y1="867.15" x2="586.9" y2="819.48"/><line x1="470.7" y1="867.26" x2="586.9" y2="815.13"/><line x1="470.7" y1="863.32" x2="586.9" y2="838.33"/><line x1="470.7" y1="877.27" x2="586.9" y2="857.09"/><line x1="470.7" y1="945.74" x2="586.9" y2="908.61"/><line x1="470.7" y1="853.22" x2="586.9" y2="816.91"/><line x1="470.7" y1="858.43" x2="586.9" y2="815.40"/><line x1="470.7" y1="876.18" x2="586.9" y2="849.35"/><line x1="470.7" y1="873.85" x2="586.9" y2="822.48"/><line x1="470.7" y1="864.87" x2="586.9" y2="816.29"/><line x1="470.7" y1="933.27" x2="586.9" y2="886.62"/><line x1="470.7" y1="859.26" x2="586.9" y2="832.33"/><line x1="470.7" y1="896.52" x2="586.9" y2="839.19"/><line x1="470.7" y1="931.60" x2="586.9" y2="903.37"/><line x1="470.7" y1="895.44" x2="586.9" y2="843.36"/><line x1="470.7" y1="859.80" x2="586.9" y2="831.47"/><line x1="470.7" y1="905.60" x2="586.9" y2="889.76"/><line x1="470.7" y1="859.04" x2="586.9" y2="814.78"/><line x1="470.7" y1="834.28" x2="586.9" y2="815.31"/><line x1="470.7" y1="876.89" x2="586.9" y2="817.34"/><line x1="470.7" y1="885.94" x2="586.9" y2="846.53"/><line x1="470.7" y1="878.10" x2="586.9" y2="851.11"/><line x1="470.7" y1="863.10" x2="586.9" y2="837.47"/><line x1="470.7" y1="856.49" x2="586.9" y2="819.91"/><line x1="470.7" y1="867.93" x2="586.9" y2="821.62"/><line x1="470.7" y1="866.06" x2="586.9" y2="814.51"/><line x1="470.7" y1="931.00" x2="586.9" y2="912.79"/><line x1="470.7" y1="917.09" x2="586.9" y2="885.57"/><line x1="470.7" y1="896.38" x2="586.9" y2="883.47"/><line x1="470.7" y1="858.79" x2="586.9" y2="813.18"/><line x1="470.7" y1="892.28" x2="586.9" y2="881.38"/><line x1="470.7" y1="871.49" x2="586.9" y2="850.05"/><line x1="470.7" y1="943.92" x2="586.9" y2="919.08"/><line x1="470.7" y1="934.34" x2="586.9" y2="899.18"/><line x1="470.7" y1="895.18" x2="586.9" y2="841.96"/><line x1="470.7" y1="863.95" x2="586.9" y2="814.69"/><line x1="470.7" y1="862.49" x2="586.9" y2="816.02"/><line x1="470.7" y1="863.68" x2="586.9" y2="813.80"/><line x1="470.7" y1="893.38" x2="586.9" y2="836.19"/><line x1="470.7" y1="875.20" x2="586.9" y2="845.48"/><line x1="470.7" y1="879.27" x2="586.9" y2="852.16"/><line x1="470.7" y1="879.13" x2="586.9" y2="820.76"/><line x1="470.7" y1="922.84" x2="586.9" y2="854.98"/><line x1="470.7" y1="843.01" x2="586.9" y2="828.90"/><line x1="470.7" y1="906.79" x2="586.9" y2="851.81"/><line x1="470.7" y1="834.03" x2="586.9" y2="814.33"/><line x1="470.7" y1="838.48" x2="586.9" y2="815.22"/><line x1="470.7" y1="942.92" x2="586.9" y2="906.51"/><line x1="470.7" y1="879.73" x2="586.9" y2="853.92"/><line x1="470.7" y1="850.86" x2="586.9" y2="835.76"/><line x1="470.7" y1="835.09" x2="586.9" y2="815.67"/><line x1="470.7" y1="880.50" x2="586.9" y2="847.24"/><line x1="470.7" y1="895.19" x2="586.9" y2="838.76"/><line x1="470.7" y1="904.68" x2="586.9" y2="900.23"/><line x1="470.7" y1="837.49" x2="586.9" y2="811.84"/><line x1="470.7" y1="904.51" x2="586.9" y2="890.80"/><line x1="470.7" y1="870.50" x2="586.9" y2="841.25"/><line x1="470.7" y1="918.22" x2="586.9" y2="849.70"/><line x1="470.7" y1="874.66" x2="586.9" y2="822.05"/><line x1="470.7" y1="836.73" x2="586.9" y2="814.24"/><line x1="470.7" y1="920.04" x2="586.9" y2="911.75"/><line x1="470.7" y1="850.83" x2="586.9" y2="816.20"/><line x1="470.7" y1="875.77" x2="586.9" y2="843.72"/><line x1="470.7" y1="843.74" x2="586.9" y2="812.20"/><line x1="470.7" y1="861.68" x2="586.9" y2="836.62"/><line x1="470.7" y1="900.40" x2="586.9" y2="870.91"/><line x1="470.7" y1="842.58" x2="586.9" y2="812.29"/><line x1="470.7" y1="877.53" x2="586.9" y2="859.56"/><line x1="470.7" y1="941.46" x2="586.9" y2="902.32"/><line x1="470.7" y1="945.69" x2="586.9" y2="866.72"/><line x1="470.7" y1="877.07" x2="586.9" y2="828.48"/><line x1="470.7" y1="880.40" x2="586.9" y2="862.53"/><line x1="470.7" y1="892.48" x2="586.9" y2="892.90"/><line x1="470.7" y1="918.43" x2="586.9" y2="910.70"/><line x1="470.7" y1="889.07" x2="586.9" y2="830.19"/><line x1="470.7" y1="891.33" x2="586.9" y2="865.67"/><line x1="470.7" y1="848.70" x2="586.9" y2="813.44"/><line x1="470.7" y1="946.05" x2="586.9" y2="858.15"/><line x1="470.7" y1="858.22" x2="586.9" y2="825.90"/><line x1="470.7" y1="848.82" x2="586.9" y2="821.19"/><line x1="470.7" y1="922.54" x2="586.9" y2="846.88"/><line x1="470.7" y1="839.53" x2="586.9" y2="813.36"/><line x1="470.7" y1="860.98" x2="586.9" y2="830.62"/><line x1="470.7" y1="842.17" x2="586.9" y2="812.91"/><line x1="470.7" y1="893.47" x2="586.9" y2="864.63"/><line x1="470.7" y1="886.78" x2="586.9" y2="855.33"/><line x1="470.7" y1="885.10" x2="586.9" y2="877.19"/><line x1="470.7" y1="831.83" x2="586.9" y2="812.02"/><line x1="470.7" y1="869.94" x2="586.9" y2="815.93"/><line x1="470.7" y1="887.71" x2="586.9" y2="844.07"/><line x1="470.7" y1="882.24" x2="586.9" y2="825.05"/><line x1="470.7" y1="894.66" x2="586.9" y2="898.13"/><line x1="470.7" y1="936.80" x2="586.9" y2="909.65"/><line x1="470.7" y1="926.18" x2="586.9" y2="884.52"/><line x1="470.7" y1="849.29" x2="586.9" y2="812.56"/><line x1="470.7" y1="893.81" x2="586.9" y2="834.90"/><line x1="470.7" y1="838.55" x2="586.9" y2="814.96"/><line x1="470.7" y1="896.83" x2="586.9" y2="879.29"/><line x1="470.7" y1="895.42" x2="586.9" y2="857.44"/><line x1="470.7" y1="875.61" x2="586.9" y2="840.04"/><line x1="470.7" y1="908.66" x2="586.9" y2="844.42"/><line x1="470.7" y1="886.68" x2="586.9" y2="861.49"/><line x1="470.7" y1="836.36" x2="586.9" y2="812.11"/><line x1="470.7" y1="844.01" x2="586.9" y2="813.00"/><line x1="470.7" y1="851.71" x2="586.9" y2="813.27"/><line x1="470.7" y1="866.92" x2="586.9" y2="816.56"/><line x1="470.7" y1="840.91" x2="586.9" y2="813.53"/><line x1="470.7" y1="838.01" x2="586.9" y2="815.76"/><line x1="470.7" y1="872.84" x2="586.9" y2="843.01"/><line x1="470.7" y1="860.50" x2="586.9" y2="828.05"/><line x1="470.7" y1="936.56" x2="586.9" y2="860.26"/><line x1="470.7" y1="859.58" x2="586.9" y2="841.60"/><line x1="470.7" y1="880.39" x2="586.9" y2="852.87"/><line x1="470.7" y1="858.02" x2="586.9" y2="814.60"/><line x1="470.7" y1="865.94" x2="586.9" y2="840.90"/><line x1="470.7" y1="893.76" x2="586.9" y2="891.85"/><line x1="470.7" y1="936.66" x2="586.9" y2="918.03"/><line x1="470.7" y1="839.49" x2="586.9" y2="813.71"/><line x1="470.7" y1="921.09" x2="586.9" y2="896.04"/><line x1="470.7" y1="878.66" x2="586.9" y2="819.05"/><line x1="470.7" y1="889.09" x2="586.9" y2="834.04"/><line x1="470.7" y1="892.82" x2="586.9" y2="831.90"/><line x1="470.7" y1="859.09" x2="586.9" y2="829.76"/><line x1="470.7" y1="834.22" x2="586.9" y2="818.62"/><line x1="470.7" y1="895.87" x2="586.9" y2="894.99"/><line x1="470.7" y1="865.11" x2="586.9" y2="826.76"/><line x1="470.7" y1="892.57" x2="586.9" y2="845.83"/><line x1="470.7" y1="872.25" x2="586.9" y2="837.90"/><line x1="470.7" y1="884.98" x2="586.9" y2="855.68"/><line x1="470.7" y1="913.13" x2="586.9" y2="875.10"/><line x1="470.7" y1="914.26" x2="586.9" y2="856.74"/><line x1="470.7" y1="905.07" x2="586.9" y2="850.76"/><line x1="470.7" y1="841.71" x2="586.9" y2="812.73"/><line x1="470.7" y1="876.64" x2="586.9" y2="823.76"/><line x1="470.7" y1="902.66" x2="586.9" y2="850.40"/><line x1="470.7" y1="841.67" x2="586.9" y2="823.33"/><line x1="470.7" y1="832.08" x2="586.9" y2="811.93"/><line x1="470.7" y1="880.46" x2="586.9" y2="849.00"/><line x1="470.7" y1="918.65" x2="586.9" y2="867.77"/><line x1="470.7" y1="908.15" x2="586.9" y2="874.05"/><line x1="470.7" y1="928.37" x2="586.9" y2="859.20"/><line x1="470.7" y1="889.23" x2="586.9" y2="868.82"/><line x1="470.7" y1="928.29" x2="586.9" y2="905.46"/><line x1="470.7" y1="898.86" x2="586.9" y2="882.43"/><line x1="470.7" y1="896.02" x2="586.9" y2="887.66"/><line x1="470.7" y1="871.36" x2="586.9" y2="816.47"/><line x1="470.7" y1="843.70" x2="586.9" y2="814.16"/><line x1="470.7" y1="858.32" x2="586.9" y2="827.19"/><line x1="470.7" y1="883.48" x2="586.9" y2="847.94"/><line x1="470.7" y1="883.39" x2="586.9" y2="824.19"/><line x1="470.7" y1="874.65" x2="586.9" y2="837.04"/><line x1="470.7" y1="886.40" x2="586.9" y2="858.50"/><line x1="470.7" y1="889.54" x2="586.9" y2="839.61"/><line x1="470.7" y1="934.06" x2="586.9" y2="873.00"/><line x1="470.7" y1="894.47" x2="586.9" y2="834.47"/><line x1="470.7" y1="835.14" x2="586.9" y2="817.76"/><line x1="470.7" y1="921.38" x2="586.9" y2="878.24"/><line x1="470.7" y1="876.15" x2="586.9" y2="824.62"/><line x1="470.7" y1="867.02" x2="586.9" y2="816.11"/><line x1="470.7" y1="846.29" x2="586.9" y2="812.38"/><line x1="470.7" y1="903.47" x2="586.9" y2="904.42"/><line x1="470.7" y1="894.99" x2="586.9" y2="871.96"/><line x1="470.7" y1="897.01" x2="586.9" y2="893.95"/><line x1="470.7" y1="884.54" x2="586.9" y2="858.85"/><line x1="470.7" y1="940.00" x2="586.9" y2="925.00"/><line x1="470.7" y1="935.00" x2="586.9" y2="928.00"/><line x1="470.7" y1="944.00" x2="586.9" y2="932.00"/><line x1="470.7" y1="930.00" x2="586.9" y2="930.00"/></g>
<rect x="458.95" y="858.30" width="23.50" height="38.40" fill="#8b6914" stroke="#333" stroke-width="0.8"/>
<line x1="458.95" y1="876.40" x2="482.45" y2="876.40" stroke="#333" stroke-width="1.1"/>
<line x1="470.70" y1="831.70" x2="470.70" y2="946.40" stroke="#555" stroke-width="0.6"/>
<rect x="575.05" y="816.80" width="23.70" height="43.90" fill="#108a14" stroke="#333" stroke-width="0.8"/>
<line x1="575.05" y1="840.90" x2="598.75" y2="840.90" stroke="#333" stroke-width="1.1"/>
<line x1="586.90" y1="811.80" x2="586.90" y2="919.60" stroke="#555" stroke-width="0.6"/>
<g fill="#333" fill-opacity="0.6"><circle cx="470.7" cy="893.20" r="0.6"/><circle cx="586.9" cy="854.63" r="0.6"/><circle cx="470.7" cy="879.69" r="0.6"/><circle cx="586.9" cy="820.33" r="0.6"/><circle cx="470.7" cy="915.08" r="0.6"/><circle cx="586.9" cy="848.29" r="0.6"/><circle cx="470.7" cy="880.80" r="0.6"/><circle cx="586.9" cy="826.33" r="0.6"/><circle cx="470.7" cy="895.62" r="0.6"/><circle cx="586.9" cy="901.28" r="0.6"/><circle cx="470.7" cy="835.77" r="0.6"/><circle cx="586.9" cy="822.91" r="0.6"/><circle cx="470.7" cy="834.61" r="0.6"/><circle cx="586.9" cy="812.64" r="0.6"/><circle cx="470.7" cy="872.99" r="0.6"/><circle cx="586.9" cy="816.64" r="0.6"/><circle cx="470.7" cy="897.80" r="0.6"/><circle cx="586.9" cy="856.39" r="0.6"/><circle cx="470.7" cy="835.35" r="0.6"/><circle cx="586.9" cy="813.09" r="0.6"/><circle cx="470.7" cy="891.86" r="0.6"/><circle cx="586.9" cy="897.09" r="0.6"/><circle cx="470.7" cy="888.05" r="0.6"/><circle cx="586.9" cy="851.46" r="0.6"/><circle cx="470.7" cy="946.19" r="0.6"/><circle cx="586.9" cy="856.04" r="0.6"/><circle cx="470.7" cy="886.01" r="0.6"/><circle cx="586.9" cy="833.19" r="0.6"/><circle cx="470.7" cy="878.46" r="0.6"/><circle cx="586.9" cy="825.48" r="0.6"/><circle cx="470.7" cy="876.20" r="0.6"/><circle cx="586.9" cy="816.73" r="0.6"/><circle cx="470.7" cy="906.45" r="0.6"/><circle cx="586.9" cy="888.71" r="0.6"/><circle cx="470.7" cy="876.06" r="0.6"/><circle cx="586.9" cy="852.52" r="0.6"/><circle cx="470.7" cy="945.42" r="0.6"/><circle cx="586.9" cy="915.94" r="0.6"/><circle cx="470.7" cy="895.55" r="0.6"/><circle cx="586.9" cy="853.57" r="0.6"/><circle cx="470.7" cy="928.56" r="0.6"/><circle cx="586.9" cy="863.58" r="0.6"/><circle cx="470.7" cy="884.56" r="0.6"/><circle cx="586.9" cy="827.62" r="0.6"/><circle cx="470.7" cy="938.12" r="0.6"/><circle cx="586.9" cy="869.86" r="0.6"/><circle cx="470.7" cy="941.93" r="0.6"/><circle cx="586.9" cy="880.33" r="0.6"/><circle cx="470.7" cy="892.30" r="0.6"/><circle cx="586.9" cy="842.66" r="0.6"/><circle cx="470.7" cy="900.12" r="0.6"/><circle cx="586.9" cy="859.91" r="0.6"/><circle cx="470.7" cy="870.20" r="0.6"/><circle cx="586.9" cy="829.33" r="0.6"/><circle cx="470.7" cy="874.29" r="0.6"/><circle cx="586.9" cy="854.28" r="0.6"/><circle cx="470.7" cy="858.24" r="0.6"/><circle cx="586.9" cy="814.42" r="0.6"/><circle cx="470.7" cy="864.99" r="0.6"/><circle cx="586.9" cy="840.47" r="0.6"/><circle cx="470.7" cy="860.76" r="0.6"/><circle cx="586.9" cy="813.98" r="0.6"/><circle cx="470.7" cy="844.56" r="0.6"/><circle cx="586.9" cy="813.62" r="0.6"/><circle cx="470.7" cy="885.37" r="0.6"/><circle cx="586.9" cy="853.22" r="0.6"/><circle cx="470.7" cy="890.52" r="0.6"/><circle cx="586.9" cy="876.14" r="0.6"/><circle cx="470.7" cy="833.32" r="0.6"/><circle cx="586.9" cy="815.58" r="0.6"/><circle cx="470.7" cy="916.69" r="0.6"/><circle cx="586.9" cy="857.80" r="0.6"/><circle cx="470.7" cy="860.17" r="0.6"/><circle cx="586.9" cy="815.84" r="0.6"/><circle cx="470.7" cy="866.03" r="0.6"/><circle cx="586.9" cy="844.77" r="0.6"/><circle cx="470.7" cy="937.69" r="0.6"/><circle cx="586.9" cy="916.98" r="0.6"/><circle cx="470.7" cy="849.23" r="0.6"/><circle cx="586.9" cy="815.49" r="0.6"/><circle cx="470.7" cy="843.20" r="0.6"/><circle cx="586.9" cy="814.07" r="0.6"/><circle cx="470.7" cy="867.18" r="0.6"/><circle cx="586.9" cy="833.62" r="0.6"/><circle cx="470.7" cy="859.47" r="0.6"/><circle cx="586.9" cy="831.05" r="0.6"/><circle cx="470.7" cy="851.68" r="0.6"/><circle cx="586.9" cy="815.04" r="0.6"/><circle cx="470.7" cy="918.71" r="0.6"/><circle cx="586.9" cy="914.89" r="0.6"/><circle cx="470.7" cy="874.68" r="0.6"/><circle cx="586.9" cy="846.18" r="0.6"/><circle cx="470.7" cy="876.08" r="0.6"/><circle cx="586.9" cy="842.31" r="0.6"/><circle cx="470.7" cy="849.26" r="0.6"/><circle cx="586.9" cy="812.47" r="0.6"/><circle cx="470.7" cy="852.48" r="0.6"/><circle cx="586.9" cy="814.87" r="0.6"/><circle cx="470.7" cy="850.17" r="0.6"/><circle cx="586.9" cy="812.82" r="0.6"/><circle cx="470.7" cy="870.31" r="0.6"/><circle cx="586.9" cy="832.76" r="0.6"/><circle cx="470.7" cy="843.10" r="0.6"/><circle cx="586.9" cy="818.19" r="0.6"/><circle cx="470.7" cy="863.16" r="0.6"/><circle cx="586.9" cy="835.33" r="0.6"/><circle cx="470.7" cy="862.40" r="0.6"/><circle cx="586.9" cy="813.89" r="0.6"/><circle cx="470.7" cy="900.69" r="0.6"/><circle cx="586.9" cy="848.64" r="0.6"/><circle cx="470.7" cy="940.21" r="0.6"/><circle cx="586.9" cy="907.56" r="0.6"/><circle cx="470.7" cy="919.94" r="0.6"/><circle cx="586.9" cy="913.84" r="0.6"/><circle cx="470.7" cy="887.71" r="0.6"/><circle cx="586.9" cy="847.59" r="0.6"/><circle cx="470.7" cy="925.54" r="0.6"/><circle cx="586.9" cy="860.61" r="0.6"/><circle cx="470.7" cy="849.17" r="0.6"/><circle cx="586.9" cy="816.38" r="0.6"/><circle cx="470.7" cy="872.16" r="0.6"/><circle cx="586.9" cy="845.12" r="0.6"/><circle cx="470.7" cy="867.15" r="0.6"/><circle cx="586.9" cy="819.48" r="0.6"/><circle cx="470.7" cy="867.26" r="0.6"/><circle cx="586.9" cy="815.13" r="0.6"/><circle cx="470.7" cy="863.32" r="0.6"/><circle cx="586.9" cy="838.33" r="0.6"/><circle cx="470.7" cy="877.27" r="0.6"/><circle cx="586.9" cy="857.09" r="0.6"/><circle cx="470.7" cy="945.74" r="0.6"/><circle cx="586.9" cy="908.61" r="0.6"/><circle cx="470.7" cy="853.22" r="0.6"/><circle cx="586.9" cy="816.91" r="0.6"/><circle cx="470.7" cy="858.43" r="0.6"/><circle cx="586.9" cy="815.40" r="0.6"/><circle cx="470.7" cy="876.18" r="0.6"/><circle cx="586.9" cy="849.35" r="0.6"/><circle cx="470.7" cy="873.85" r="0.6"/><circle cx="586.9" cy="822.48" r="0.6"/><circle cx="470.7" cy="864.87" r="0.6"/><circle cx="586.9" cy="816.29" r="0.6"/><circle cx="470.7" cy="933.27" r="0.6"/><circle cx="586.9" cy="886.62" r="0.6"/><circle cx="470.7" cy="859.26" r="0.6"/><circle cx="586.9" cy="832.33" r="0.6"/><circle cx="470.7" cy="896.52" r="0.6"/><circle cx="586.9" cy="839.19" r="0.6"/><circle cx="470.7" cy="931.60" r="0.6"/><circle cx="586.9" cy="903.37" r="0.6"/><circle cx="470.7" cy="895.44" r="0.6"/><circle cx="586.9" cy="843.36" r="0.6"/><circle cx="470.7" cy="859.80" r="0.6"/><circle cx="586.9" cy="831.47" r="0.6"/><circle cx="470.7" cy="905.60" r="0.6"/><circle cx="586.9" cy="889.76" r="0.6"/><circle cx="470.7" cy="859.04" r="0.6"/><circle cx="586.9" cy="814.78" r="0.6"/><circle cx="470.7" cy="834.28" r="0.6"/><circle cx="586.9" cy="815.31" r="0.6"/><circle cx="470.7" cy="876.89" r="0.6"/><circle cx="586.9" cy="817.34" r="0.6"/><circle cx="470.7" cy="885.94" r="0.6"/><circle cx="586.9" cy="846.53" r="0.6"/><circle cx="470.7" cy="878.10" r="0.6"/><circle cx="586.9" cy="851.11" r="0.6"/><circle cx="470.7" cy="863.10" r="0.6"/><circle cx="586.9" cy="837.47" r="0.6"/><circle cx="470.7" cy="856.49" r="0.6"/><circle cx="586.9" cy="819.91" r="0.6"/><circle cx="470.7" cy="867.93" r="0.6"/><circle cx="586.9" cy="821.62" r="0.6"/><circle cx="470.7" cy="866.06" r="0.6"/><circle cx="586.9" cy="814.51" r="0.6"/><circle cx="470.7" cy="931.00" r="0.6"/><circle cx="586.9" cy="912.79" r="0.6"/><circle cx="470.7" cy="917.09" r="0.6"/><circle cx="586.9" cy="885.57" r="0.6"/><circle cx="470.7" cy="896.38" r="0.6"/><circle cx="586.9" cy="883.47" r="0.6"/><circle cx="470.7" cy="858.79" r="0.6"/><circle cx="586.9" cy="813.18" r="0.6"/><circle cx="470.7" cy="892.28" r="0.6"/><circle cx="586.9" cy="881.38" r="0.6"/><circle cx="470.7" cy="871.49" r="0.6"/><circle cx="586.9" cy="850.05" r="0.6"/><circle cx="470.7" cy="943.92" r="0.6"/><circle cx="586.9" cy="919.08" r="0.6"/><circle cx="470.7" cy="934.34" r="0.6"/><circle cx="586.9" cy="899.18" r="0.6"/><circle cx="470.7" cy="895.18" r="0.6"/><circle cx="586.9" cy="841.96" r="0.6"/><circle cx="470.7" cy="863.95" r="0.6"/><circle cx="586.9" cy="814.69" r="0.6"/><circle cx="470.7" cy="862.49" r="0.6"/><circle cx="586.9" cy="816.02" r="0.6"/><circle cx="470.7" cy="863.68" r="0.6"/><circle cx="586.9" cy="813.80" r="0.6"/><circle cx="470.7" cy="893.38" r="0.6"/><circle cx="586.9" cy="836.19" r="0.6"/><circle cx="470.7" cy="875.20" r="0.6"/><circle cx="586.9" cy="845.48" r="0.6"/><circle cx="470.7" cy="879.27" r="0.6"/><circle cx="586.9" cy="852.16" r="0.6"/><circle cx="470.7" cy="879.13" r="0.6"/><circle cx="586.9" cy="820.76" r="0.6"/><circle cx="470.7" cy="922.84" r="0.6"/><circle cx="586.9" cy="854.98" r="0.6"/><circle cx="470.7" cy="843.01" r="0.6"/><circle cx="586.9" cy="828.90" r="0.6"/><circle cx="470.7" cy="906.79" r="0.6"/><circle cx="586.9" cy="851.81" r="0.6"/><circle cx="470.7" cy="834.03" r="0.6"/><circle cx="586.9" cy="814.33" r="0.6"/><circle cx="470.7" cy="838.48" r="0.6"/><circle cx="586.9" cy="815.22" r="0.6"/><circle cx="470.7" cy="942.92" r="0.6"/><circle cx="586.9" cy="906.51" r="0.6"/><circle cx="470.7" cy="879.73" r="0.6"/><circle cx="586.9" cy="853.92" r="0.6"/><circle cx="470.7" cy="850.86" r="0.6"/><circle cx="586.9" cy="835.76" r="0.6"/><circle cx="470.7" cy="835.09" r="0.6"/><circle cx="586.9" cy="815.67" r="0.6"/><circle cx="470.7" cy="880.50" r="0.6"/><circle cx="586.9" cy="847.24" r="0.6"/><circle cx="470.7" cy="895.19" r="0.6"/><circle cx="586.9" cy="838.76" r="0.6"/><circle cx="470.7" cy="904.68" r="0.6"/><circle cx="586.9" cy="900.23" r="0.6"/><circle cx="470.7" cy="837.49" r="0.6"/><circle cx="586.9" cy="811.84" r="0.6"/><circle cx="470.7" cy="904.51" r="0.6"/><circle cx="586.9" cy="890.80" r="0.6"/><circle cx="470.7" cy="870.50" r="0.6"/><circle cx="586.9" cy="841.25" r="0.6"/><circle cx="470.7" cy="918.22" r="0.6"/><circle cx="586.9" cy="849.70" r="0.6"/><circle cx="470.7" cy="874.66" r="0.6"/><circle cx="586.9" cy="822.05" r="0.6"/><circle cx="470.7" cy="836.73" r="0.6"/><circle cx="586.9" cy="814.24" r="0.6"/><circle cx="470.7" cy="920.04" r="0.6"/><circle cx="586.9" cy="911.75" r="0.6"/><circle cx="470.7" cy="850.83" r="0.6"/><circle cx="586.9" cy="816.20" r="0.6"/><circle cx="470.7" cy="875.77" r="0.6"/><circle cx="586.9" cy="843.72" r="0.6"/><circle cx="470.7" cy="843.74" r="0.6"/><circle cx="586.9" cy="812.20" r="0.6"/><circle cx="470.7" cy="861.68" r="0.6"/><circle cx="586.9" cy="836.62" r="0.6"/><circle cx="470.7" cy="900.40" r="0.6"/><circle cx="586.9" cy="870.91" r="0.6"/><circle cx="470.7" cy="842.58" r="0.6"/><circle cx="586.9" cy="812.29" r="0.6"/><circle cx="470.7" cy="877.53" r="0.6"/><circle cx="586.9" cy="859.56" r="0.6"/><circle cx="470.7" cy="941.46" r="0.6"/><circle cx="586.9" cy="902.32" r="0.6"/><circle cx="470.7" cy="945.69" r="0.6"/><circle cx="586.9" cy="866.72" r="0.6"/><circle cx="470.7" cy="877.07" r="0.6"/><circle cx="586.9" cy="828.48" r="0.6"/><circle cx="470.7" cy="880.40" r="0.6"/><circle cx="586.9" cy="862.53" r="0.6"/><circle cx="470.7" cy="892.48" r="0.6"/><circle cx="586.9" cy="892.90" r="0.6"/><circle cx="470.7" cy="918.43" r="0.6"/><circle cx="586.9" cy="910.70" r="0.6"/><circle cx="470.7" cy="889.07" r="0.6"/><circle cx="586.9" cy="830.19" r="0.6"/><circle cx="470.7" cy="891.33" r="0.6"/><circle cx="586.9" cy="865.67" r="0.6"/><circle cx="470.7" cy="848.70" r="0.6"/><circle cx="586.9" cy="813.44" r="0.6"/><circle cx="470.7" cy="946.05" r="0.6"/><circle cx="586.9" cy="858.15" r="0.6"/><circle cx="470.7" cy="858.22" r="0.6"/><circle cx="586.9" cy="825.90" r="0.6"/><circle cx="470.7" cy="848.82" r="0.6"/><circle cx="586.9" cy="821.19" r="0.6"/><circle cx="470.7" cy="922.54" r="0.6"/><circle cx="586.9" cy="846.88" r="0.6"/><circle cx="470.7" cy="839.53" r="0.6"/><circle cx="586.9" cy="813.36" r="0.6"/><circle cx="470.7" cy="860.98" r="0.6"/><circle cx="586.9" cy="830.62" r="0.6"/><circle cx="470.7" cy="842.17" r="0.6"/><circle cx="586.9" cy="812.91" r="0.6"/><circle cx="470.7" cy="893.47" r="0.6"/><circle cx="586.9" cy="864.63" r="0.6"/><circle cx="470.7" cy="886.78" r="0.6"/><circle cx="586.9" cy="855.33" r="0.6"/><circle cx="470.7" cy="885.10" r="0.6"/><circle cx="586.9" cy="877.19" r="0.6"/><circle cx="470.7" cy="831.83" r="0.6"/><circle cx="586.9" cy="812.02" r="0.6"/><circle cx="470.7" cy="869.94" r="0.6"/><circle cx="586.9" cy="815.93" r="0.6"/><circle cx="470.7" cy="887.71" r="0.6"/><circle cx="586.9" cy="844.07" r="0.6"/><circle cx="470.7" cy="882.24" r="0.6"/><circle cx="586.9" cy="825.05" r="0.6"/><circle cx="470.7" cy="894.66" r="0.6"/><circle cx="586.9" cy="898.13" r="0.6"/><circle cx="470.7" cy="936.80" r="0.6"/><circle cx="586.9" cy="909.65" r="0.6"/><circle cx="470.7" cy="926.18" r="0.6"/><circle cx="586.9" cy="884.52" r="0.6"/><circle cx="470.7" cy="849.29" r="0.6"/><circle cx="586.9" cy="812.56" r="0.6"/><circle cx="470.7" cy="893.81" r="0.6"/><circle cx="586.9" cy="834.90" r="0.6"/><circle cx="470.7" cy="838.55" r="0.6"/><circle cx="586.9" cy="814.96" r="0.6"/><circle cx="470.7" cy="896.83" r="0.6"/><circle cx="586.9" cy="879.29" r="0.6"/><circle cx="470.7" cy="895.42" r="0.6"/><circle cx="586.9" cy="857.44" r="0.6"/><circle cx="470.7" cy="875.61" r="0.6"/><circle cx="586.9" cy="840.04" r="0.6"/><circle cx="470.7" cy="908.66" r="0.6"/><circle cx="586.9" cy="844.42" r="0.6"/><circle cx="470.7" cy="886.68" r="0.6"/><circle cx="586.9" cy="861.49" r="0.6"/><circle cx="470.7" cy="836.36" r="0.6"/><circle cx="586.9" cy="812.11" r="0.6"/><circle cx="470.7" cy="844.01" r="0.6"/><circle cx="586.9" cy="813.00" r="0.6"/><circle cx="470.7" cy="851.71" r="0.6"/><circle cx="586.9" cy="813.27" r="0.6"/><circle cx="470.7" cy="866.92" r="0.6"/><circle cx="586.9" cy="816.56" r="0.6"/><circle cx="470.7" cy="840.91" r="0.6"/><circle cx="586.9" cy="813.53" r="0.6"/><circle cx="470.7" cy="838.01" r="0.6"/><circle cx="586.9" cy="815.76" r="0.6"/><circle cx="470.7" cy="872.84" r="0.6"/><circle cx="586.9" cy="843.01" r="0.6"/><circle cx="470.7" cy="860.50" r="0.6"/><circle cx="586.9" cy="828.05" r="0.6"/><circle cx="470.7" cy="936.56" r="0.6"/><circle cx="586.9" cy="860.26" r="0.6"/><circle cx="470.7" cy="859.58" r="0.6"/><circle cx="586.9" cy="841.60" r="0.6"/><circle cx="470.7" cy="880.39" r="0.6"/><circle cx="586.9" cy="852.87" r="0.6"/><circle cx="470.7" cy="858.02" r="0.6"/><circle cx="586.9" cy="814.60" r="0.6"/><circle cx="470.7" cy="865.94" r="0.6"/><circle cx="586.9" cy="840.90" r="0.6"/><circle cx="470.7" cy="893.76" r="0.6"/><circle cx="586.9" cy="891.85" r="0.6"/><circle cx="470.7" cy="936.66" r="0.6"/><circle cx="586.9" cy="918.03" r="0.6"/><circle cx="470.7" cy="839.49" r="0.6"/><circle cx="586.9" cy="813.71" r="0.6"/><circle cx="470.7" cy="921.09" r="0.6"/><circle cx="586.9" cy="896.04" r="0.6"/><circle cx="470.7" cy="878.66" r="0.6"/><circle cx="586.9" cy="819.05" r="0.6"/><circle cx="470.7" cy="889.09" r="0.6"/><circle cx="586.9" cy="834.04" r="0.6"/><circle cx="470.7" cy="892.82" r="0.6"/><circle cx="586.9" cy="831.90" r="0.6"/><circle cx="470.7" cy="859.09" r="0.6"/><circle cx="586.9" cy="829.76" r="0.6"/><circle cx="470.7" cy="834.22" r="0.6"/><circle cx="586.9" cy="818.62" r="0.6"/><circle cx="470.7" cy="895.87" r="0.6"/><circle cx="586.9" cy="894.99" r="0.6"/><circle cx="470.7" cy="865.11" r="0.6"/><circle cx="586.9" cy="826.76" r="0.6"/><circle cx="470.7" cy="892.57" r="0.6"/><circle cx="586.9" cy="845.83" r="0.6"/><circle cx="470.7" cy="872.25" r="0.6"/><circle cx="586.9" cy="837.90" r="0.6"/><circle cx="470.7" cy="884.98" r="0.6"/><circle cx="586.9" cy="855.68" r="0.6"/><circle cx="470.7" cy="913.13" r="0.6"/><circle cx="586.9" cy="875.10" r="0.6"/><circle cx="470.7" cy="914.26" r="0.6"/><circle cx="586.9" cy="856.74" r="0.6"/><circle cx="470.7" cy="905.07" r="0.6"/><circle cx="586.9" cy="850.76" r="0.6"/><circle cx="470.7" cy="841.71" r="0.6"/><circle cx="586.9" cy="812.73" r="0.6"/><circle cx="470.7" cy="876.64" r="0.6"/><circle cx="586.9" cy="823.76" r="0.6"/><circle cx="470.7" cy="902.66" r="0.6"/><circle cx="586.9" cy="850.40" r="0.6"/><circle cx="470.7" cy="841.67" r="0.6"/><circle cx="586.9" cy="823.33" r="0.6"/><circle cx="470.7" cy="832.08" r="0.6"/><circle cx="586.9" cy="811.93" r="0.6"/><circle cx="470.7" cy="880.46" r="0.6"/><circle cx="586.9" cy="849.00" r="0.6"/><circle cx="470.7" cy="918.65" r="0.6"/><circle cx="586.9" cy="867.77" r="0.6"/><circle cx="470.7" cy="908.15" r="0.6"/><circle cx="586.9" cy="874.05" r="0.6"/><circle cx="470.7" cy="928.37" r="0.6"/><circle cx="586.9" cy="859.20" r="0.6"/><circle cx="470.7" cy="889.23" r="0.6"/><circle cx="586.9" cy="868.82" r="0.6"/><circle cx="470.7" cy="928.29" r="0.6"/><circle cx="586.9" cy="905.46" r="0.6"/><circle cx="470.7" cy="898.86" r="0.6"/><circle cx="586.9" cy="882.43" r="0.6"/><circle cx="470.7" cy="896.02" r="0.6"/><circle cx="586.9" cy="887.66" r="0.6"/><circle cx="470.7" cy="871.36" r="0.6"/><circle cx="586.9" cy="816.47" r="0.6"/><circle cx="470.7" cy="843.70" r="0.6"/><circle cx="586.9" cy="814.16" r="0.6"/><circle cx="470.7" cy="858.32" r="0.6"/><circle cx="586.9" cy="827.19" r="0.6"/><circle cx="470.7" cy="883.48" r="0.6"/><circle cx="586.9" cy="847.94" r="0.6"/><circle cx="470.7" cy="883.39" r="0.6"/><circle cx="586.9" cy="824.19" r="0.6"/><circle cx="470.7" cy="874.65" r="0.6"/><circle cx="586.9" cy="837.04" r="0.6"/><circle cx="470.7" cy="886.40" r="0.6"/><circle cx="586.9" cy="858.50" r="0.6"/><circle cx="470.7" cy="889.54" r="0.6"/><circle cx="586.9" cy="839.61" r="0.6"/><circle cx="470.7" cy="934.06" r="0.6"/><circle cx="586.9" cy="873.00" r="0.6"/><circle cx="470.7" cy="894.47" r="0.6"/><circle cx="586.9" cy="834.47" r="0.6"/><circle cx="470.7" cy="835.14" r="0.6"/><circle cx="586.9" cy="817.76" r="0.6"/><circle cx="470.7" cy="921.38" r="0.6"/><circle cx="586.9" cy="878.24" r="0.6"/><circle cx="470.7" cy="876.15" r="0.6"/><circle cx="586.9" cy="824.62" r="0.6"/><circle cx="470.7" cy="867.02" r="0.6"/><circle cx="586.9" cy="816.11" r="0.6"/><circle cx="470.7" cy="846.29" r="0.6"/><circle cx="586.9" cy="812.38" r="0.6"/><circle cx="470.7" cy="903.47" r="0.6"/><circle cx="586.9" cy="904.42" r="0.6"/><circle cx="470.7" cy="894.99" r="0.6"/><circle cx="586.9" cy="871.96" r="0.6"/><circle cx="470.7" cy="897.01" r="0.6"/><circle cx="586.9" cy="893.95" r="0.6"/><circle cx="470.7" cy="884.54" r="0.6"/><circle cx="586.9" cy="858.85" r="0.6"/><circle cx="470.7" cy="940.00" r="0.6"/><circle cx="586.9" cy="925.00" r="0.6"/><circle cx="470.7" cy="935.00" r="0.6"/><circle cx="586.9" cy="928.00" r="0.6"/><circle cx="470.7" cy="944.00" r="0.6"/><circle cx="586.9" cy="932.00" r="0.6"/><circle cx="470.7" cy="930.00" r="0.6"/><circle cx="586.9" cy="930.00" r="0.6"/></g>
<path d="M401.5 804.9 V952.6 H656.4" fill="none" stroke="#666" stroke-width="1.05"/>
<line x1="398.70" y1="811.80" x2="401.50" y2="811.80" stroke="#666" stroke-width="0.9"/>
<text x="399.30" y="815.00" font-size="9.3" fill="#4d4d4d" stroke="#4d4d4d" stroke-width="0.08" text-anchor="end">1.00</text>
<line x1="398.70" y1="849.60" x2="401.50" y2="849.60" stroke="#666" stroke-width="0.9"/>
<text x="399.30" y="852.80" font-size="9.3" fill="#4d4d4d" stroke="#4d4d4d" stroke-width="0.08" text-anchor="end">0.75</text>
<line x1="398.70" y1="888.80" x2="401.50" y2="888.80" stroke="#666" stroke-width="0.9"/>
<text x="399.30" y="892.00" font-size="9.3" fill="#4d4d4d" stroke="#4d4d4d" stroke-width="0.08" text-anchor="end">0.50</text>
<line x1="398.70" y1="927.00" x2="401.50" y2="927.00" stroke="#666" stroke-width="0.9"/>
<text x="399.30" y="930.20" font-size="9.3" fill="#4d4d4d" stroke="#4d4d4d" stroke-width="0.08" text-anchor="end">0.25</text>
<line x1="470.70" y1="952.60" x2="470.70" y2="955.10" stroke="#666" stroke-width="0.9"/>
<text x="470.70" y="960.90" font-size="7.7" fill="#4d4d4d" stroke="#4d4d4d" stroke-width="0.08" text-anchor="middle">Melanoma_TCGA_CBX</text>
<line x1="586.90" y1="952.60" x2="586.90" y2="955.10" stroke="#666" stroke-width="0.9"/>
<text x="586.90" y="960.90" font-size="7.7" fill="#4d4d4d" stroke="#4d4d4d" stroke-width="0.08" text-anchor="middle">Wu_TCGA_CBX</text>
<text x="528.50" y="968.90" font-size="7.7" fill="#1a1a1a" stroke="#1a1a1a" stroke-width="0.12" text-anchor="middle">Analysis</text>
<text x="378.00" y="879.00" font-size="7.5" fill="#1a1a1a" stroke="#1a1a1a" stroke-width="0.12" text-anchor="middle" transform="rotate(-90 378.0 879.0)">Correlation</text>
<text x="461.50" y="812.00" font-size="9.2" fill="#1a1a1a" stroke="#1a1a1a" stroke-width="0.2" text-anchor="start">p = &lt;2e-16</text>
</svg></body></html>
